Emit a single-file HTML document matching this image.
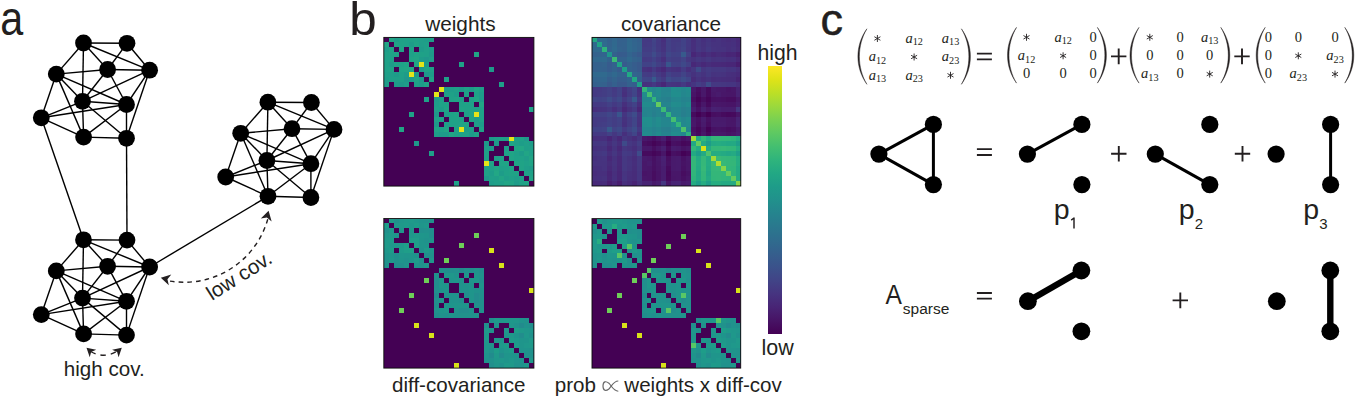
<!DOCTYPE html>
<html><head><meta charset="utf-8"><style>
html,body{margin:0;padding:0;background:#fff;width:1357px;height:397px;overflow:hidden}
svg text{fill:#231f20}
</style></head><body>
<svg width="1357" height="397" viewBox="0 0 1357 397" style="position:absolute;left:0;top:0;font-family:'Liberation Sans',sans-serif">
<text transform="translate(0.3,35) scale(0.87,1)" style="font-size:47.5px">a</text>
<g stroke="#000" stroke-width="1.4"><line x1="83.5" y1="43.0" x2="127.0" y2="43.3"/><line x1="83.5" y1="43.0" x2="56.3" y2="74.1"/><line x1="83.5" y1="43.0" x2="107.6" y2="69.5"/><line x1="83.5" y1="43.0" x2="149.6" y2="70.2"/><line x1="83.5" y1="43.0" x2="82.5" y2="101.3"/><line x1="127.0" y1="43.3" x2="107.6" y2="69.5"/><line x1="127.0" y1="43.3" x2="149.6" y2="70.2"/><line x1="56.3" y1="74.1" x2="107.6" y2="69.5"/><line x1="56.3" y1="74.1" x2="82.5" y2="101.3"/><line x1="56.3" y1="74.1" x2="126.5" y2="104.5"/><line x1="56.3" y1="74.1" x2="41.3" y2="117.8"/><line x1="56.3" y1="74.1" x2="83.6" y2="137.1"/><line x1="107.6" y1="69.5" x2="149.6" y2="70.2"/><line x1="107.6" y1="69.5" x2="82.5" y2="101.3"/><line x1="107.6" y1="69.5" x2="126.5" y2="104.5"/><line x1="149.6" y1="70.2" x2="82.5" y2="101.3"/><line x1="149.6" y1="70.2" x2="126.5" y2="104.5"/><line x1="149.6" y1="70.2" x2="126.5" y2="138.3"/><line x1="82.5" y1="101.3" x2="126.5" y2="104.5"/><line x1="82.5" y1="101.3" x2="41.3" y2="117.8"/><line x1="82.5" y1="101.3" x2="83.6" y2="137.1"/><line x1="82.5" y1="101.3" x2="126.5" y2="138.3"/><line x1="126.5" y1="104.5" x2="41.3" y2="117.8"/><line x1="126.5" y1="104.5" x2="83.6" y2="137.1"/><line x1="126.5" y1="104.5" x2="126.5" y2="138.3"/><line x1="41.3" y1="117.8" x2="83.6" y2="137.1"/><line x1="83.6" y1="137.1" x2="126.5" y2="138.3"/><line x1="83.5" y1="239.8" x2="127.0" y2="240.1"/><line x1="83.5" y1="239.8" x2="56.3" y2="270.9"/><line x1="83.5" y1="239.8" x2="107.6" y2="266.3"/><line x1="83.5" y1="239.8" x2="149.6" y2="267.0"/><line x1="83.5" y1="239.8" x2="82.5" y2="298.1"/><line x1="127.0" y1="240.1" x2="107.6" y2="266.3"/><line x1="127.0" y1="240.1" x2="149.6" y2="267.0"/><line x1="56.3" y1="270.9" x2="107.6" y2="266.3"/><line x1="56.3" y1="270.9" x2="82.5" y2="298.1"/><line x1="56.3" y1="270.9" x2="126.5" y2="301.3"/><line x1="56.3" y1="270.9" x2="41.3" y2="314.6"/><line x1="56.3" y1="270.9" x2="83.6" y2="333.9"/><line x1="107.6" y1="266.3" x2="149.6" y2="267.0"/><line x1="107.6" y1="266.3" x2="82.5" y2="298.1"/><line x1="107.6" y1="266.3" x2="126.5" y2="301.3"/><line x1="149.6" y1="267.0" x2="82.5" y2="298.1"/><line x1="149.6" y1="267.0" x2="126.5" y2="301.3"/><line x1="149.6" y1="267.0" x2="126.5" y2="335.1"/><line x1="82.5" y1="298.1" x2="126.5" y2="301.3"/><line x1="82.5" y1="298.1" x2="41.3" y2="314.6"/><line x1="82.5" y1="298.1" x2="83.6" y2="333.9"/><line x1="82.5" y1="298.1" x2="126.5" y2="335.1"/><line x1="126.5" y1="301.3" x2="41.3" y2="314.6"/><line x1="126.5" y1="301.3" x2="83.6" y2="333.9"/><line x1="126.5" y1="301.3" x2="126.5" y2="335.1"/><line x1="41.3" y1="314.6" x2="83.6" y2="333.9"/><line x1="83.6" y1="333.9" x2="126.5" y2="335.1"/><line x1="267.9" y1="102.2" x2="311.4" y2="102.5"/><line x1="267.9" y1="102.2" x2="240.7" y2="133.3"/><line x1="267.9" y1="102.2" x2="292.0" y2="128.7"/><line x1="267.9" y1="102.2" x2="334.0" y2="129.4"/><line x1="267.9" y1="102.2" x2="266.9" y2="160.5"/><line x1="311.4" y1="102.5" x2="292.0" y2="128.7"/><line x1="311.4" y1="102.5" x2="334.0" y2="129.4"/><line x1="240.7" y1="133.3" x2="292.0" y2="128.7"/><line x1="240.7" y1="133.3" x2="266.9" y2="160.5"/><line x1="240.7" y1="133.3" x2="310.9" y2="163.7"/><line x1="240.7" y1="133.3" x2="225.7" y2="177.0"/><line x1="240.7" y1="133.3" x2="268.0" y2="196.3"/><line x1="292.0" y1="128.7" x2="334.0" y2="129.4"/><line x1="292.0" y1="128.7" x2="266.9" y2="160.5"/><line x1="292.0" y1="128.7" x2="310.9" y2="163.7"/><line x1="334.0" y1="129.4" x2="266.9" y2="160.5"/><line x1="334.0" y1="129.4" x2="310.9" y2="163.7"/><line x1="334.0" y1="129.4" x2="310.9" y2="197.5"/><line x1="266.9" y1="160.5" x2="310.9" y2="163.7"/><line x1="266.9" y1="160.5" x2="225.7" y2="177.0"/><line x1="266.9" y1="160.5" x2="268.0" y2="196.3"/><line x1="266.9" y1="160.5" x2="310.9" y2="197.5"/><line x1="310.9" y1="163.7" x2="225.7" y2="177.0"/><line x1="310.9" y1="163.7" x2="268.0" y2="196.3"/><line x1="310.9" y1="163.7" x2="310.9" y2="197.5"/><line x1="225.7" y1="177.0" x2="268.0" y2="196.3"/><line x1="268.0" y1="196.3" x2="310.9" y2="197.5"/><line x1="41.3" y1="117.8" x2="83.5" y2="239.8"/><line x1="126.5" y1="138.3" x2="127.0" y2="240.1"/><line x1="149.6" y1="267.0" x2="268.0" y2="196.3"/></g>
<g fill="#000"><circle cx="83.5" cy="43.0" r="8.4"/><circle cx="127.0" cy="43.3" r="8.4"/><circle cx="56.3" cy="74.1" r="8.4"/><circle cx="107.6" cy="69.5" r="8.4"/><circle cx="149.6" cy="70.2" r="8.4"/><circle cx="82.5" cy="101.3" r="8.4"/><circle cx="126.5" cy="104.5" r="8.4"/><circle cx="41.3" cy="117.8" r="8.4"/><circle cx="83.6" cy="137.1" r="8.4"/><circle cx="126.5" cy="138.3" r="8.4"/><circle cx="83.5" cy="239.8" r="8.4"/><circle cx="127.0" cy="240.1" r="8.4"/><circle cx="56.3" cy="270.9" r="8.4"/><circle cx="107.6" cy="266.3" r="8.4"/><circle cx="149.6" cy="267.0" r="8.4"/><circle cx="82.5" cy="298.1" r="8.4"/><circle cx="126.5" cy="301.3" r="8.4"/><circle cx="41.3" cy="314.6" r="8.4"/><circle cx="83.6" cy="333.9" r="8.4"/><circle cx="126.5" cy="335.1" r="8.4"/><circle cx="267.9" cy="102.2" r="8.4"/><circle cx="311.4" cy="102.5" r="8.4"/><circle cx="240.7" cy="133.3" r="8.4"/><circle cx="292.0" cy="128.7" r="8.4"/><circle cx="334.0" cy="129.4" r="8.4"/><circle cx="266.9" cy="160.5" r="8.4"/><circle cx="310.9" cy="163.7" r="8.4"/><circle cx="225.7" cy="177.0" r="8.4"/><circle cx="268.0" cy="196.3" r="8.4"/><circle cx="310.9" cy="197.5" r="8.4"/></g>
<path d="M267.75 219.2 A86.7 86.7 0 0 1 168.5 280.8" fill="none" stroke="#231f20" stroke-width="1.4" stroke-dasharray="4.6 4.1"/>
<path d="M268.60 210.80L271.65 221.40L266.90 217.38L260.81 218.60Z" fill="#231f20"/>
<path d="M160.80 277.80L171.30 274.44L167.43 279.30L168.83 285.36Z" fill="#231f20"/>
<path d="M90.5 351.5 Q104 359 116.5 351.5" fill="none" stroke="#231f20" stroke-width="1.4" stroke-dasharray="5.5 5"/>
<path d="M86.50 347.80L96.19 349.80L91.15 351.90L89.72 357.16Z" fill="#231f20"/>
<path d="M121.80 347.80L118.58 357.16L117.15 351.90L112.11 349.80Z" fill="#231f20"/>
<text x="63.8" y="375.6" style="font-size:20.6px">high cov.</text>
<text transform="translate(212,301) rotate(-32.3)" style="font-size:20.6px">low cov.</text>

<text transform="translate(349.3,34.6) scale(1.05,1)" style="font-size:47px">b</text>
<text x="460.4" y="31" text-anchor="middle" style="font-size:20.8px">weights</text>
<text x="671" y="31.2" text-anchor="middle" style="font-size:20.7px">covariance</text>
<text x="392" y="391.6" style="font-size:20.6px">diff-covariance</text>
<text x="554.8" y="391.6" style="font-size:20.6px">prob</text>
<path d="M618.30 381.00 C613.70 381.00 611.20 386.60 608.90 389.00 C606.00 391.20 603.00 391.20 603.00 386.10 C603.00 381.00 606.00 381.00 608.90 383.20 C611.20 385.60 613.70 391.20 618.30 391.20" fill="none" stroke="#666" stroke-width="1.15"/>
<text x="624.3" y="391.6" style="font-size:20.6px">weights x diff-cov</text>
<svg x="383.80" y="37.40" width="150.10" height="148.70" viewBox="0 0 30 30" preserveAspectRatio="none" shape-rendering="crispEdges">
<rect width="30" height="30" fill="#440154"/>
<rect x="1" y="0" width="1" height="1" fill="#21a585"/>
<rect x="2" y="0" width="1" height="1" fill="#1e9d89"/>
<rect x="3" y="0" width="1" height="1" fill="#1fa187"/>
<rect x="4" y="0" width="1" height="1" fill="#1fa188"/>
<rect x="5" y="0" width="1" height="1" fill="#1fa187"/>
<rect x="6" y="0" width="1" height="1" fill="#1fa188"/>
<rect x="7" y="0" width="1" height="1" fill="#1f9f88"/>
<rect x="8" y="0" width="1" height="1" fill="#1e9d89"/>
<rect x="9" y="0" width="1" height="1" fill="#1e9d89"/>
<rect x="0" y="1" width="1" height="1" fill="#21a585"/>
<rect x="2" y="1" width="1" height="1" fill="#20a486"/>
<rect x="3" y="1" width="1" height="1" fill="#1fa287"/>
<rect x="4" y="1" width="1" height="1" fill="#1fa188"/>
<rect x="5" y="1" width="1" height="1" fill="#1e9c89"/>
<rect x="6" y="1" width="1" height="1" fill="#20a386"/>
<rect x="7" y="1" width="1" height="1" fill="#1f9e89"/>
<rect x="8" y="1" width="1" height="1" fill="#1fa088"/>
<rect x="0" y="2" width="1" height="1" fill="#1e9d89"/>
<rect x="1" y="2" width="1" height="1" fill="#20a486"/>
<rect x="3" y="2" width="1" height="1" fill="#20a386"/>
<rect x="5" y="2" width="1" height="1" fill="#1fa287"/>
<rect x="7" y="2" width="1" height="1" fill="#1e9c89"/>
<rect x="8" y="2" width="1" height="1" fill="#1fa088"/>
<rect x="9" y="2" width="1" height="1" fill="#1e9c89"/>
<rect x="0" y="3" width="1" height="1" fill="#1fa187"/>
<rect x="1" y="3" width="1" height="1" fill="#1fa287"/>
<rect x="2" y="3" width="1" height="1" fill="#20a386"/>
<rect x="5" y="3" width="1" height="1" fill="#1fa188"/>
<rect x="6" y="3" width="1" height="1" fill="#20a486"/>
<rect x="7" y="3" width="1" height="1" fill="#1fa187"/>
<rect x="8" y="3" width="1" height="1" fill="#1fa088"/>
<rect x="9" y="3" width="1" height="1" fill="#1f998a"/>
<rect x="18" y="3" width="1" height="1" fill="#21a585"/>
<rect x="0" y="4" width="1" height="1" fill="#1fa188"/>
<rect x="1" y="4" width="1" height="1" fill="#1fa188"/>
<rect x="5" y="4" width="1" height="1" fill="#20a486"/>
<rect x="6" y="4" width="1" height="1" fill="#21a585"/>
<rect x="7" y="4" width="1" height="1" fill="#1e9c89"/>
<rect x="8" y="4" width="1" height="1" fill="#1f988b"/>
<rect x="9" y="4" width="1" height="1" fill="#1f9e89"/>
<rect x="0" y="5" width="1" height="1" fill="#1fa187"/>
<rect x="1" y="5" width="1" height="1" fill="#1e9c89"/>
<rect x="2" y="5" width="1" height="1" fill="#1fa287"/>
<rect x="3" y="5" width="1" height="1" fill="#1fa188"/>
<rect x="4" y="5" width="1" height="1" fill="#20a486"/>
<rect x="6" y="5" width="1" height="1" fill="#21a685"/>
<rect x="7" y="5" width="1" height="1" fill="#e5e419"/>
<rect x="8" y="5" width="1" height="1" fill="#1e9b8a"/>
<rect x="15" y="5" width="1" height="1" fill="#1fa287"/>
<rect x="0" y="6" width="1" height="1" fill="#1fa188"/>
<rect x="1" y="6" width="1" height="1" fill="#20a386"/>
<rect x="3" y="6" width="1" height="1" fill="#20a486"/>
<rect x="4" y="6" width="1" height="1" fill="#21a585"/>
<rect x="5" y="6" width="1" height="1" fill="#21a685"/>
<rect x="7" y="6" width="1" height="1" fill="#1f9a8a"/>
<rect x="8" y="6" width="1" height="1" fill="#20a386"/>
<rect x="9" y="6" width="1" height="1" fill="#1fa088"/>
<rect x="21" y="6" width="1" height="1" fill="#1f998a"/>
<rect x="0" y="7" width="1" height="1" fill="#1f9f88"/>
<rect x="1" y="7" width="1" height="1" fill="#1f9e89"/>
<rect x="2" y="7" width="1" height="1" fill="#1e9c89"/>
<rect x="3" y="7" width="1" height="1" fill="#1fa187"/>
<rect x="4" y="7" width="1" height="1" fill="#1e9c89"/>
<rect x="5" y="7" width="1" height="1" fill="#e5e419"/>
<rect x="6" y="7" width="1" height="1" fill="#1f9a8a"/>
<rect x="8" y="7" width="1" height="1" fill="#1f988b"/>
<rect x="9" y="7" width="1" height="1" fill="#1e9c89"/>
<rect x="0" y="8" width="1" height="1" fill="#1e9d89"/>
<rect x="1" y="8" width="1" height="1" fill="#1fa088"/>
<rect x="2" y="8" width="1" height="1" fill="#1fa088"/>
<rect x="3" y="8" width="1" height="1" fill="#1fa088"/>
<rect x="4" y="8" width="1" height="1" fill="#1f988b"/>
<rect x="5" y="8" width="1" height="1" fill="#1e9b8a"/>
<rect x="6" y="8" width="1" height="1" fill="#20a386"/>
<rect x="7" y="8" width="1" height="1" fill="#1f988b"/>
<rect x="9" y="8" width="1" height="1" fill="#20a486"/>
<rect x="12" y="8" width="1" height="1" fill="#1fa188"/>
<rect x="0" y="9" width="1" height="1" fill="#1e9d89"/>
<rect x="2" y="9" width="1" height="1" fill="#1e9c89"/>
<rect x="3" y="9" width="1" height="1" fill="#1f998a"/>
<rect x="4" y="9" width="1" height="1" fill="#1f9e89"/>
<rect x="6" y="9" width="1" height="1" fill="#1fa088"/>
<rect x="7" y="9" width="1" height="1" fill="#1e9c89"/>
<rect x="8" y="9" width="1" height="1" fill="#20a486"/>
<rect x="23" y="9" width="1" height="1" fill="#1f9f88"/>
<rect x="11" y="10" width="1" height="1" fill="#e5e419"/>
<rect x="12" y="10" width="1" height="1" fill="#1e9b8a"/>
<rect x="13" y="10" width="1" height="1" fill="#1e9d89"/>
<rect x="14" y="10" width="1" height="1" fill="#1f9f88"/>
<rect x="15" y="10" width="1" height="1" fill="#1f998a"/>
<rect x="16" y="10" width="1" height="1" fill="#1fa188"/>
<rect x="17" y="10" width="1" height="1" fill="#1f9a8a"/>
<rect x="18" y="10" width="1" height="1" fill="#20a486"/>
<rect x="19" y="10" width="1" height="1" fill="#1f9e89"/>
<rect x="10" y="11" width="1" height="1" fill="#e5e419"/>
<rect x="12" y="11" width="1" height="1" fill="#1fa088"/>
<rect x="13" y="11" width="1" height="1" fill="#1fa187"/>
<rect x="14" y="11" width="1" height="1" fill="#1e9d89"/>
<rect x="16" y="11" width="1" height="1" fill="#1fa287"/>
<rect x="18" y="11" width="1" height="1" fill="#1fa188"/>
<rect x="19" y="11" width="1" height="1" fill="#1e9b8a"/>
<rect x="8" y="12" width="1" height="1" fill="#1fa188"/>
<rect x="10" y="12" width="1" height="1" fill="#1e9b8a"/>
<rect x="11" y="12" width="1" height="1" fill="#1fa088"/>
<rect x="13" y="12" width="1" height="1" fill="#1fa287"/>
<rect x="14" y="12" width="1" height="1" fill="#20a386"/>
<rect x="15" y="12" width="1" height="1" fill="#1f9f88"/>
<rect x="17" y="12" width="1" height="1" fill="#1fa188"/>
<rect x="18" y="12" width="1" height="1" fill="#21a685"/>
<rect x="19" y="12" width="1" height="1" fill="#1e9b8a"/>
<rect x="10" y="13" width="1" height="1" fill="#1e9d89"/>
<rect x="11" y="13" width="1" height="1" fill="#1fa187"/>
<rect x="12" y="13" width="1" height="1" fill="#1fa287"/>
<rect x="15" y="13" width="1" height="1" fill="#1fa187"/>
<rect x="16" y="13" width="1" height="1" fill="#1fa287"/>
<rect x="17" y="13" width="1" height="1" fill="#1fa188"/>
<rect x="19" y="13" width="1" height="1" fill="#21a585"/>
<rect x="10" y="14" width="1" height="1" fill="#1f9f88"/>
<rect x="11" y="14" width="1" height="1" fill="#1e9d89"/>
<rect x="12" y="14" width="1" height="1" fill="#20a386"/>
<rect x="15" y="14" width="1" height="1" fill="#20a386"/>
<rect x="16" y="14" width="1" height="1" fill="#1fa287"/>
<rect x="17" y="14" width="1" height="1" fill="#1fa287"/>
<rect x="18" y="14" width="1" height="1" fill="#1fa187"/>
<rect x="19" y="14" width="1" height="1" fill="#1fa188"/>
<rect x="29" y="14" width="1" height="1" fill="#1fa187"/>
<rect x="5" y="15" width="1" height="1" fill="#1fa287"/>
<rect x="10" y="15" width="1" height="1" fill="#1f998a"/>
<rect x="12" y="15" width="1" height="1" fill="#1f9f88"/>
<rect x="13" y="15" width="1" height="1" fill="#1fa187"/>
<rect x="14" y="15" width="1" height="1" fill="#20a386"/>
<rect x="16" y="15" width="1" height="1" fill="#1fa088"/>
<rect x="17" y="15" width="1" height="1" fill="#20a386"/>
<rect x="18" y="15" width="1" height="1" fill="#e5e419"/>
<rect x="19" y="15" width="1" height="1" fill="#1fa188"/>
<rect x="10" y="16" width="1" height="1" fill="#1fa188"/>
<rect x="11" y="16" width="1" height="1" fill="#1fa287"/>
<rect x="13" y="16" width="1" height="1" fill="#1fa287"/>
<rect x="14" y="16" width="1" height="1" fill="#1fa287"/>
<rect x="15" y="16" width="1" height="1" fill="#1fa088"/>
<rect x="17" y="16" width="1" height="1" fill="#20a386"/>
<rect x="18" y="16" width="1" height="1" fill="#1e9c89"/>
<rect x="19" y="16" width="1" height="1" fill="#1fa188"/>
<rect x="10" y="17" width="1" height="1" fill="#1f9a8a"/>
<rect x="12" y="17" width="1" height="1" fill="#1fa188"/>
<rect x="13" y="17" width="1" height="1" fill="#1fa188"/>
<rect x="14" y="17" width="1" height="1" fill="#1fa287"/>
<rect x="15" y="17" width="1" height="1" fill="#20a386"/>
<rect x="16" y="17" width="1" height="1" fill="#20a386"/>
<rect x="18" y="17" width="1" height="1" fill="#1f9e89"/>
<rect x="19" y="17" width="1" height="1" fill="#1e9b8a"/>
<rect x="3" y="18" width="1" height="1" fill="#21a585"/>
<rect x="10" y="18" width="1" height="1" fill="#20a486"/>
<rect x="11" y="18" width="1" height="1" fill="#1fa188"/>
<rect x="12" y="18" width="1" height="1" fill="#21a685"/>
<rect x="14" y="18" width="1" height="1" fill="#1fa187"/>
<rect x="15" y="18" width="1" height="1" fill="#e5e419"/>
<rect x="16" y="18" width="1" height="1" fill="#1e9c89"/>
<rect x="17" y="18" width="1" height="1" fill="#1f9e89"/>
<rect x="19" y="18" width="1" height="1" fill="#1fa287"/>
<rect x="10" y="19" width="1" height="1" fill="#1f9e89"/>
<rect x="11" y="19" width="1" height="1" fill="#1e9b8a"/>
<rect x="12" y="19" width="1" height="1" fill="#1e9b8a"/>
<rect x="13" y="19" width="1" height="1" fill="#21a585"/>
<rect x="14" y="19" width="1" height="1" fill="#1fa188"/>
<rect x="15" y="19" width="1" height="1" fill="#1fa188"/>
<rect x="16" y="19" width="1" height="1" fill="#1fa188"/>
<rect x="17" y="19" width="1" height="1" fill="#1e9b8a"/>
<rect x="18" y="19" width="1" height="1" fill="#1fa287"/>
<rect x="21" y="20" width="1" height="1" fill="#1e9b8a"/>
<rect x="22" y="20" width="1" height="1" fill="#1f9e89"/>
<rect x="23" y="20" width="1" height="1" fill="#1fa187"/>
<rect x="24" y="20" width="1" height="1" fill="#1f9f88"/>
<rect x="25" y="20" width="1" height="1" fill="#e5e419"/>
<rect x="26" y="20" width="1" height="1" fill="#1fa088"/>
<rect x="27" y="20" width="1" height="1" fill="#1fa187"/>
<rect x="28" y="20" width="1" height="1" fill="#1f988b"/>
<rect x="6" y="21" width="1" height="1" fill="#1f998a"/>
<rect x="20" y="21" width="1" height="1" fill="#1e9b8a"/>
<rect x="22" y="21" width="1" height="1" fill="#1e9b8a"/>
<rect x="25" y="21" width="1" height="1" fill="#20a486"/>
<rect x="26" y="21" width="1" height="1" fill="#1fa088"/>
<rect x="27" y="21" width="1" height="1" fill="#1e9d89"/>
<rect x="28" y="21" width="1" height="1" fill="#1fa088"/>
<rect x="29" y="21" width="1" height="1" fill="#1e9d89"/>
<rect x="20" y="22" width="1" height="1" fill="#1f9e89"/>
<rect x="21" y="22" width="1" height="1" fill="#1e9b8a"/>
<rect x="24" y="22" width="1" height="1" fill="#1f9e89"/>
<rect x="26" y="22" width="1" height="1" fill="#21a585"/>
<rect x="27" y="22" width="1" height="1" fill="#22a785"/>
<rect x="28" y="22" width="1" height="1" fill="#1f9f88"/>
<rect x="29" y="22" width="1" height="1" fill="#1fa088"/>
<rect x="9" y="23" width="1" height="1" fill="#1f9f88"/>
<rect x="20" y="23" width="1" height="1" fill="#1fa187"/>
<rect x="24" y="23" width="1" height="1" fill="#1fa188"/>
<rect x="25" y="23" width="1" height="1" fill="#20a486"/>
<rect x="26" y="23" width="1" height="1" fill="#1fa088"/>
<rect x="27" y="23" width="1" height="1" fill="#1e9c89"/>
<rect x="28" y="23" width="1" height="1" fill="#21a585"/>
<rect x="29" y="23" width="1" height="1" fill="#1fa088"/>
<rect x="20" y="24" width="1" height="1" fill="#1f9f88"/>
<rect x="22" y="24" width="1" height="1" fill="#1f9e89"/>
<rect x="23" y="24" width="1" height="1" fill="#1fa188"/>
<rect x="25" y="24" width="1" height="1" fill="#20a486"/>
<rect x="26" y="24" width="1" height="1" fill="#1fa188"/>
<rect x="27" y="24" width="1" height="1" fill="#1fa287"/>
<rect x="28" y="24" width="1" height="1" fill="#1f9e89"/>
<rect x="29" y="24" width="1" height="1" fill="#21a585"/>
<rect x="20" y="25" width="1" height="1" fill="#e5e419"/>
<rect x="21" y="25" width="1" height="1" fill="#20a486"/>
<rect x="23" y="25" width="1" height="1" fill="#20a486"/>
<rect x="24" y="25" width="1" height="1" fill="#20a486"/>
<rect x="26" y="25" width="1" height="1" fill="#20a486"/>
<rect x="27" y="25" width="1" height="1" fill="#20a386"/>
<rect x="28" y="25" width="1" height="1" fill="#1fa188"/>
<rect x="29" y="25" width="1" height="1" fill="#20a486"/>
<rect x="20" y="26" width="1" height="1" fill="#1fa088"/>
<rect x="21" y="26" width="1" height="1" fill="#1fa088"/>
<rect x="22" y="26" width="1" height="1" fill="#21a585"/>
<rect x="23" y="26" width="1" height="1" fill="#1fa088"/>
<rect x="24" y="26" width="1" height="1" fill="#1fa188"/>
<rect x="25" y="26" width="1" height="1" fill="#20a486"/>
<rect x="27" y="26" width="1" height="1" fill="#20a386"/>
<rect x="28" y="26" width="1" height="1" fill="#1f9e89"/>
<rect x="29" y="26" width="1" height="1" fill="#1e9c89"/>
<rect x="20" y="27" width="1" height="1" fill="#1fa187"/>
<rect x="21" y="27" width="1" height="1" fill="#1e9d89"/>
<rect x="22" y="27" width="1" height="1" fill="#22a785"/>
<rect x="23" y="27" width="1" height="1" fill="#1e9c89"/>
<rect x="24" y="27" width="1" height="1" fill="#1fa287"/>
<rect x="25" y="27" width="1" height="1" fill="#20a386"/>
<rect x="26" y="27" width="1" height="1" fill="#20a386"/>
<rect x="28" y="27" width="1" height="1" fill="#1fa188"/>
<rect x="29" y="27" width="1" height="1" fill="#1fa187"/>
<rect x="20" y="28" width="1" height="1" fill="#1f988b"/>
<rect x="21" y="28" width="1" height="1" fill="#1fa088"/>
<rect x="22" y="28" width="1" height="1" fill="#1f9f88"/>
<rect x="23" y="28" width="1" height="1" fill="#21a585"/>
<rect x="24" y="28" width="1" height="1" fill="#1f9e89"/>
<rect x="25" y="28" width="1" height="1" fill="#1fa188"/>
<rect x="26" y="28" width="1" height="1" fill="#1f9e89"/>
<rect x="27" y="28" width="1" height="1" fill="#1fa188"/>
<rect x="29" y="28" width="1" height="1" fill="#20a486"/>
<rect x="14" y="29" width="1" height="1" fill="#1fa187"/>
<rect x="21" y="29" width="1" height="1" fill="#1e9d89"/>
<rect x="22" y="29" width="1" height="1" fill="#1fa088"/>
<rect x="23" y="29" width="1" height="1" fill="#1fa088"/>
<rect x="24" y="29" width="1" height="1" fill="#21a585"/>
<rect x="25" y="29" width="1" height="1" fill="#20a486"/>
<rect x="26" y="29" width="1" height="1" fill="#1e9c89"/>
<rect x="27" y="29" width="1" height="1" fill="#1fa187"/>
<rect x="28" y="29" width="1" height="1" fill="#20a486"/>
</svg>
<rect x="383.80" y="37.40" width="150.10" height="148.70" fill="none" stroke="#0a0a0a" stroke-width="0.9"/>
<svg x="592.00" y="37.40" width="148.80" height="148.60" viewBox="0 0 30 30" preserveAspectRatio="none" shape-rendering="crispEdges">
<rect width="30" height="30" fill="#440154"/>
<rect x="0" y="0" width="1" height="1" fill="#22a884"/>
<rect x="1" y="0" width="1" height="1" fill="#306a8e"/>
<rect x="2" y="0" width="1" height="1" fill="#30698e"/>
<rect x="3" y="0" width="1" height="1" fill="#33628d"/>
<rect x="4" y="0" width="1" height="1" fill="#31688e"/>
<rect x="5" y="0" width="1" height="1" fill="#34618d"/>
<rect x="6" y="0" width="1" height="1" fill="#34618d"/>
<rect x="7" y="0" width="1" height="1" fill="#30698e"/>
<rect x="8" y="0" width="1" height="1" fill="#32648e"/>
<rect x="9" y="0" width="1" height="1" fill="#34608d"/>
<rect x="10" y="0" width="1" height="1" fill="#443a83"/>
<rect x="11" y="0" width="1" height="1" fill="#443983"/>
<rect x="12" y="0" width="1" height="1" fill="#414487"/>
<rect x="13" y="0" width="1" height="1" fill="#443983"/>
<rect x="14" y="0" width="1" height="1" fill="#472f7d"/>
<rect x="15" y="0" width="1" height="1" fill="#424086"/>
<rect x="16" y="0" width="1" height="1" fill="#443a83"/>
<rect x="17" y="0" width="1" height="1" fill="#443a83"/>
<rect x="18" y="0" width="1" height="1" fill="#414287"/>
<rect x="19" y="0" width="1" height="1" fill="#443983"/>
<rect x="20" y="0" width="1" height="1" fill="#472e7c"/>
<rect x="21" y="0" width="1" height="1" fill="#453781"/>
<rect x="22" y="0" width="1" height="1" fill="#46307e"/>
<rect x="23" y="0" width="1" height="1" fill="#453581"/>
<rect x="24" y="0" width="1" height="1" fill="#46307e"/>
<rect x="25" y="0" width="1" height="1" fill="#46337f"/>
<rect x="26" y="0" width="1" height="1" fill="#472f7d"/>
<rect x="27" y="0" width="1" height="1" fill="#472d7b"/>
<rect x="28" y="0" width="1" height="1" fill="#472f7d"/>
<rect x="29" y="0" width="1" height="1" fill="#482979"/>
<rect x="0" y="1" width="1" height="1" fill="#306a8e"/>
<rect x="1" y="1" width="1" height="1" fill="#20a386"/>
<rect x="2" y="1" width="1" height="1" fill="#2f6b8e"/>
<rect x="3" y="1" width="1" height="1" fill="#33638d"/>
<rect x="4" y="1" width="1" height="1" fill="#30698e"/>
<rect x="5" y="1" width="1" height="1" fill="#34618d"/>
<rect x="6" y="1" width="1" height="1" fill="#33628d"/>
<rect x="7" y="1" width="1" height="1" fill="#306a8e"/>
<rect x="8" y="1" width="1" height="1" fill="#32658e"/>
<rect x="9" y="1" width="1" height="1" fill="#33628d"/>
<rect x="10" y="1" width="1" height="1" fill="#443a83"/>
<rect x="11" y="1" width="1" height="1" fill="#443b84"/>
<rect x="12" y="1" width="1" height="1" fill="#414287"/>
<rect x="13" y="1" width="1" height="1" fill="#443983"/>
<rect x="14" y="1" width="1" height="1" fill="#46327e"/>
<rect x="15" y="1" width="1" height="1" fill="#424186"/>
<rect x="16" y="1" width="1" height="1" fill="#443b84"/>
<rect x="17" y="1" width="1" height="1" fill="#433d84"/>
<rect x="18" y="1" width="1" height="1" fill="#414287"/>
<rect x="19" y="1" width="1" height="1" fill="#443983"/>
<rect x="20" y="1" width="1" height="1" fill="#472f7d"/>
<rect x="21" y="1" width="1" height="1" fill="#453781"/>
<rect x="22" y="1" width="1" height="1" fill="#46327e"/>
<rect x="23" y="1" width="1" height="1" fill="#453781"/>
<rect x="24" y="1" width="1" height="1" fill="#46337f"/>
<rect x="25" y="1" width="1" height="1" fill="#46337f"/>
<rect x="26" y="1" width="1" height="1" fill="#46307e"/>
<rect x="27" y="1" width="1" height="1" fill="#472f7d"/>
<rect x="28" y="1" width="1" height="1" fill="#46307e"/>
<rect x="29" y="1" width="1" height="1" fill="#472a7a"/>
<rect x="0" y="2" width="1" height="1" fill="#30698e"/>
<rect x="1" y="2" width="1" height="1" fill="#2f6b8e"/>
<rect x="2" y="2" width="1" height="1" fill="#2fb47c"/>
<rect x="3" y="2" width="1" height="1" fill="#32648e"/>
<rect x="4" y="2" width="1" height="1" fill="#306a8e"/>
<rect x="5" y="2" width="1" height="1" fill="#33638d"/>
<rect x="6" y="2" width="1" height="1" fill="#34618d"/>
<rect x="7" y="2" width="1" height="1" fill="#306a8e"/>
<rect x="8" y="2" width="1" height="1" fill="#31668e"/>
<rect x="9" y="2" width="1" height="1" fill="#34618d"/>
<rect x="10" y="2" width="1" height="1" fill="#433d84"/>
<rect x="11" y="2" width="1" height="1" fill="#433d84"/>
<rect x="12" y="2" width="1" height="1" fill="#414487"/>
<rect x="13" y="2" width="1" height="1" fill="#443a83"/>
<rect x="14" y="2" width="1" height="1" fill="#46337f"/>
<rect x="15" y="2" width="1" height="1" fill="#424186"/>
<rect x="16" y="2" width="1" height="1" fill="#443b84"/>
<rect x="17" y="2" width="1" height="1" fill="#433e85"/>
<rect x="18" y="2" width="1" height="1" fill="#414487"/>
<rect x="19" y="2" width="1" height="1" fill="#453882"/>
<rect x="20" y="2" width="1" height="1" fill="#472f7d"/>
<rect x="21" y="2" width="1" height="1" fill="#453882"/>
<rect x="22" y="2" width="1" height="1" fill="#46337f"/>
<rect x="23" y="2" width="1" height="1" fill="#443983"/>
<rect x="24" y="2" width="1" height="1" fill="#463480"/>
<rect x="25" y="2" width="1" height="1" fill="#46337f"/>
<rect x="26" y="2" width="1" height="1" fill="#46337f"/>
<rect x="27" y="2" width="1" height="1" fill="#472f7d"/>
<rect x="28" y="2" width="1" height="1" fill="#46327e"/>
<rect x="29" y="2" width="1" height="1" fill="#472c7a"/>
<rect x="0" y="3" width="1" height="1" fill="#33628d"/>
<rect x="1" y="3" width="1" height="1" fill="#33638d"/>
<rect x="2" y="3" width="1" height="1" fill="#32648e"/>
<rect x="3" y="3" width="1" height="1" fill="#1f958b"/>
<rect x="4" y="3" width="1" height="1" fill="#33628d"/>
<rect x="5" y="3" width="1" height="1" fill="#375b8d"/>
<rect x="6" y="3" width="1" height="1" fill="#365c8d"/>
<rect x="7" y="3" width="1" height="1" fill="#32648e"/>
<rect x="8" y="3" width="1" height="1" fill="#355e8d"/>
<rect x="9" y="3" width="1" height="1" fill="#38598c"/>
<rect x="10" y="3" width="1" height="1" fill="#424186"/>
<rect x="11" y="3" width="1" height="1" fill="#424186"/>
<rect x="12" y="3" width="1" height="1" fill="#3e4c8a"/>
<rect x="13" y="3" width="1" height="1" fill="#424086"/>
<rect x="14" y="3" width="1" height="1" fill="#453882"/>
<rect x="15" y="3" width="1" height="1" fill="#3f4788"/>
<rect x="16" y="3" width="1" height="1" fill="#424186"/>
<rect x="17" y="3" width="1" height="1" fill="#414287"/>
<rect x="18" y="3" width="1" height="1" fill="#375a8c"/>
<rect x="19" y="3" width="1" height="1" fill="#424186"/>
<rect x="20" y="3" width="1" height="1" fill="#482677"/>
<rect x="21" y="3" width="1" height="1" fill="#472e7c"/>
<rect x="22" y="3" width="1" height="1" fill="#482878"/>
<rect x="23" y="3" width="1" height="1" fill="#472e7c"/>
<rect x="24" y="3" width="1" height="1" fill="#482878"/>
<rect x="25" y="3" width="1" height="1" fill="#472c7a"/>
<rect x="26" y="3" width="1" height="1" fill="#482979"/>
<rect x="27" y="3" width="1" height="1" fill="#482576"/>
<rect x="28" y="3" width="1" height="1" fill="#482677"/>
<rect x="29" y="3" width="1" height="1" fill="#481f70"/>
<rect x="0" y="4" width="1" height="1" fill="#31688e"/>
<rect x="1" y="4" width="1" height="1" fill="#30698e"/>
<rect x="2" y="4" width="1" height="1" fill="#306a8e"/>
<rect x="3" y="4" width="1" height="1" fill="#33628d"/>
<rect x="4" y="4" width="1" height="1" fill="#3bbb75"/>
<rect x="5" y="4" width="1" height="1" fill="#33628d"/>
<rect x="6" y="4" width="1" height="1" fill="#33628d"/>
<rect x="7" y="4" width="1" height="1" fill="#30698e"/>
<rect x="8" y="4" width="1" height="1" fill="#33638d"/>
<rect x="9" y="4" width="1" height="1" fill="#34608d"/>
<rect x="10" y="4" width="1" height="1" fill="#443a83"/>
<rect x="11" y="4" width="1" height="1" fill="#443b84"/>
<rect x="12" y="4" width="1" height="1" fill="#414287"/>
<rect x="13" y="4" width="1" height="1" fill="#443983"/>
<rect x="14" y="4" width="1" height="1" fill="#472f7d"/>
<rect x="15" y="4" width="1" height="1" fill="#424086"/>
<rect x="16" y="4" width="1" height="1" fill="#433d84"/>
<rect x="17" y="4" width="1" height="1" fill="#433d84"/>
<rect x="18" y="4" width="1" height="1" fill="#414487"/>
<rect x="19" y="4" width="1" height="1" fill="#453781"/>
<rect x="20" y="4" width="1" height="1" fill="#46327e"/>
<rect x="21" y="4" width="1" height="1" fill="#453781"/>
<rect x="22" y="4" width="1" height="1" fill="#46337f"/>
<rect x="23" y="4" width="1" height="1" fill="#453781"/>
<rect x="24" y="4" width="1" height="1" fill="#46327e"/>
<rect x="25" y="4" width="1" height="1" fill="#46337f"/>
<rect x="26" y="4" width="1" height="1" fill="#46327e"/>
<rect x="27" y="4" width="1" height="1" fill="#472f7d"/>
<rect x="28" y="4" width="1" height="1" fill="#46307e"/>
<rect x="29" y="4" width="1" height="1" fill="#482878"/>
<rect x="0" y="5" width="1" height="1" fill="#34618d"/>
<rect x="1" y="5" width="1" height="1" fill="#34618d"/>
<rect x="2" y="5" width="1" height="1" fill="#33638d"/>
<rect x="3" y="5" width="1" height="1" fill="#375b8d"/>
<rect x="4" y="5" width="1" height="1" fill="#33628d"/>
<rect x="5" y="5" width="1" height="1" fill="#20a386"/>
<rect x="6" y="5" width="1" height="1" fill="#375b8d"/>
<rect x="7" y="5" width="1" height="1" fill="#33628d"/>
<rect x="8" y="5" width="1" height="1" fill="#365d8d"/>
<rect x="9" y="5" width="1" height="1" fill="#38598c"/>
<rect x="10" y="5" width="1" height="1" fill="#414287"/>
<rect x="11" y="5" width="1" height="1" fill="#414287"/>
<rect x="12" y="5" width="1" height="1" fill="#3e4989"/>
<rect x="13" y="5" width="1" height="1" fill="#423f85"/>
<rect x="14" y="5" width="1" height="1" fill="#453882"/>
<rect x="15" y="5" width="1" height="1" fill="#39558c"/>
<rect x="16" y="5" width="1" height="1" fill="#414287"/>
<rect x="17" y="5" width="1" height="1" fill="#424186"/>
<rect x="18" y="5" width="1" height="1" fill="#3e4989"/>
<rect x="19" y="5" width="1" height="1" fill="#424086"/>
<rect x="20" y="5" width="1" height="1" fill="#482878"/>
<rect x="21" y="5" width="1" height="1" fill="#472e7c"/>
<rect x="22" y="5" width="1" height="1" fill="#482878"/>
<rect x="23" y="5" width="1" height="1" fill="#472d7b"/>
<rect x="24" y="5" width="1" height="1" fill="#482979"/>
<rect x="25" y="5" width="1" height="1" fill="#482979"/>
<rect x="26" y="5" width="1" height="1" fill="#482878"/>
<rect x="27" y="5" width="1" height="1" fill="#482677"/>
<rect x="28" y="5" width="1" height="1" fill="#482677"/>
<rect x="29" y="5" width="1" height="1" fill="#481d6f"/>
<rect x="0" y="6" width="1" height="1" fill="#34618d"/>
<rect x="1" y="6" width="1" height="1" fill="#33628d"/>
<rect x="2" y="6" width="1" height="1" fill="#34618d"/>
<rect x="3" y="6" width="1" height="1" fill="#365c8d"/>
<rect x="4" y="6" width="1" height="1" fill="#33628d"/>
<rect x="5" y="6" width="1" height="1" fill="#375b8d"/>
<rect x="6" y="6" width="1" height="1" fill="#1f9f88"/>
<rect x="7" y="6" width="1" height="1" fill="#34618d"/>
<rect x="8" y="6" width="1" height="1" fill="#355e8d"/>
<rect x="9" y="6" width="1" height="1" fill="#38598c"/>
<rect x="10" y="6" width="1" height="1" fill="#46327e"/>
<rect x="11" y="6" width="1" height="1" fill="#472f7d"/>
<rect x="12" y="6" width="1" height="1" fill="#443a83"/>
<rect x="13" y="6" width="1" height="1" fill="#472f7d"/>
<rect x="14" y="6" width="1" height="1" fill="#482878"/>
<rect x="15" y="6" width="1" height="1" fill="#453581"/>
<rect x="16" y="6" width="1" height="1" fill="#46327e"/>
<rect x="17" y="6" width="1" height="1" fill="#46307e"/>
<rect x="18" y="6" width="1" height="1" fill="#443b84"/>
<rect x="19" y="6" width="1" height="1" fill="#472f7d"/>
<rect x="20" y="6" width="1" height="1" fill="#453781"/>
<rect x="21" y="6" width="1" height="1" fill="#3e4a89"/>
<rect x="22" y="6" width="1" height="1" fill="#453781"/>
<rect x="23" y="6" width="1" height="1" fill="#443b84"/>
<rect x="24" y="6" width="1" height="1" fill="#453882"/>
<rect x="25" y="6" width="1" height="1" fill="#453882"/>
<rect x="26" y="6" width="1" height="1" fill="#453882"/>
<rect x="27" y="6" width="1" height="1" fill="#463480"/>
<rect x="28" y="6" width="1" height="1" fill="#453581"/>
<rect x="29" y="6" width="1" height="1" fill="#472f7d"/>
<rect x="0" y="7" width="1" height="1" fill="#30698e"/>
<rect x="1" y="7" width="1" height="1" fill="#306a8e"/>
<rect x="2" y="7" width="1" height="1" fill="#306a8e"/>
<rect x="3" y="7" width="1" height="1" fill="#32648e"/>
<rect x="4" y="7" width="1" height="1" fill="#30698e"/>
<rect x="5" y="7" width="1" height="1" fill="#33628d"/>
<rect x="6" y="7" width="1" height="1" fill="#34618d"/>
<rect x="7" y="7" width="1" height="1" fill="#22a884"/>
<rect x="8" y="7" width="1" height="1" fill="#32648e"/>
<rect x="9" y="7" width="1" height="1" fill="#34618d"/>
<rect x="10" y="7" width="1" height="1" fill="#433d84"/>
<rect x="11" y="7" width="1" height="1" fill="#443b84"/>
<rect x="12" y="7" width="1" height="1" fill="#414487"/>
<rect x="13" y="7" width="1" height="1" fill="#443a83"/>
<rect x="14" y="7" width="1" height="1" fill="#46327e"/>
<rect x="15" y="7" width="1" height="1" fill="#414287"/>
<rect x="16" y="7" width="1" height="1" fill="#443b84"/>
<rect x="17" y="7" width="1" height="1" fill="#443b84"/>
<rect x="18" y="7" width="1" height="1" fill="#414487"/>
<rect x="19" y="7" width="1" height="1" fill="#443a83"/>
<rect x="20" y="7" width="1" height="1" fill="#46327e"/>
<rect x="21" y="7" width="1" height="1" fill="#453882"/>
<rect x="22" y="7" width="1" height="1" fill="#46337f"/>
<rect x="23" y="7" width="1" height="1" fill="#443983"/>
<rect x="24" y="7" width="1" height="1" fill="#46337f"/>
<rect x="25" y="7" width="1" height="1" fill="#463480"/>
<rect x="26" y="7" width="1" height="1" fill="#46337f"/>
<rect x="27" y="7" width="1" height="1" fill="#472f7d"/>
<rect x="28" y="7" width="1" height="1" fill="#472e7c"/>
<rect x="29" y="7" width="1" height="1" fill="#472a7a"/>
<rect x="0" y="8" width="1" height="1" fill="#32648e"/>
<rect x="1" y="8" width="1" height="1" fill="#32658e"/>
<rect x="2" y="8" width="1" height="1" fill="#31668e"/>
<rect x="3" y="8" width="1" height="1" fill="#355e8d"/>
<rect x="4" y="8" width="1" height="1" fill="#33638d"/>
<rect x="5" y="8" width="1" height="1" fill="#365d8d"/>
<rect x="6" y="8" width="1" height="1" fill="#355e8d"/>
<rect x="7" y="8" width="1" height="1" fill="#32648e"/>
<rect x="8" y="8" width="1" height="1" fill="#22a884"/>
<rect x="9" y="8" width="1" height="1" fill="#355e8d"/>
<rect x="10" y="8" width="1" height="1" fill="#404688"/>
<rect x="11" y="8" width="1" height="1" fill="#404588"/>
<rect x="12" y="8" width="1" height="1" fill="#375b8d"/>
<rect x="13" y="8" width="1" height="1" fill="#414287"/>
<rect x="14" y="8" width="1" height="1" fill="#443a83"/>
<rect x="15" y="8" width="1" height="1" fill="#3e4c8a"/>
<rect x="16" y="8" width="1" height="1" fill="#404588"/>
<rect x="17" y="8" width="1" height="1" fill="#404688"/>
<rect x="18" y="8" width="1" height="1" fill="#3d4d8a"/>
<rect x="19" y="8" width="1" height="1" fill="#404588"/>
<rect x="20" y="8" width="1" height="1" fill="#472c7a"/>
<rect x="21" y="8" width="1" height="1" fill="#46337f"/>
<rect x="22" y="8" width="1" height="1" fill="#472e7c"/>
<rect x="23" y="8" width="1" height="1" fill="#46327e"/>
<rect x="24" y="8" width="1" height="1" fill="#472d7b"/>
<rect x="25" y="8" width="1" height="1" fill="#472e7c"/>
<rect x="26" y="8" width="1" height="1" fill="#472d7b"/>
<rect x="27" y="8" width="1" height="1" fill="#472c7a"/>
<rect x="28" y="8" width="1" height="1" fill="#472c7a"/>
<rect x="29" y="8" width="1" height="1" fill="#482374"/>
<rect x="0" y="9" width="1" height="1" fill="#34608d"/>
<rect x="1" y="9" width="1" height="1" fill="#33628d"/>
<rect x="2" y="9" width="1" height="1" fill="#34618d"/>
<rect x="3" y="9" width="1" height="1" fill="#38598c"/>
<rect x="4" y="9" width="1" height="1" fill="#34608d"/>
<rect x="5" y="9" width="1" height="1" fill="#38598c"/>
<rect x="6" y="9" width="1" height="1" fill="#38598c"/>
<rect x="7" y="9" width="1" height="1" fill="#34618d"/>
<rect x="8" y="9" width="1" height="1" fill="#355e8d"/>
<rect x="9" y="9" width="1" height="1" fill="#1f9f88"/>
<rect x="10" y="9" width="1" height="1" fill="#46307e"/>
<rect x="11" y="9" width="1" height="1" fill="#46327e"/>
<rect x="12" y="9" width="1" height="1" fill="#443983"/>
<rect x="13" y="9" width="1" height="1" fill="#472f7d"/>
<rect x="14" y="9" width="1" height="1" fill="#482677"/>
<rect x="15" y="9" width="1" height="1" fill="#453581"/>
<rect x="16" y="9" width="1" height="1" fill="#46337f"/>
<rect x="17" y="9" width="1" height="1" fill="#46327e"/>
<rect x="18" y="9" width="1" height="1" fill="#443983"/>
<rect x="19" y="9" width="1" height="1" fill="#472f7d"/>
<rect x="20" y="9" width="1" height="1" fill="#453581"/>
<rect x="21" y="9" width="1" height="1" fill="#433e85"/>
<rect x="22" y="9" width="1" height="1" fill="#453882"/>
<rect x="23" y="9" width="1" height="1" fill="#3e4c8a"/>
<rect x="24" y="9" width="1" height="1" fill="#453882"/>
<rect x="25" y="9" width="1" height="1" fill="#453882"/>
<rect x="26" y="9" width="1" height="1" fill="#453781"/>
<rect x="27" y="9" width="1" height="1" fill="#453581"/>
<rect x="28" y="9" width="1" height="1" fill="#453581"/>
<rect x="29" y="9" width="1" height="1" fill="#472f7d"/>
<rect x="0" y="10" width="1" height="1" fill="#443a83"/>
<rect x="1" y="10" width="1" height="1" fill="#443a83"/>
<rect x="2" y="10" width="1" height="1" fill="#433d84"/>
<rect x="3" y="10" width="1" height="1" fill="#424186"/>
<rect x="4" y="10" width="1" height="1" fill="#443a83"/>
<rect x="5" y="10" width="1" height="1" fill="#414287"/>
<rect x="6" y="10" width="1" height="1" fill="#46327e"/>
<rect x="7" y="10" width="1" height="1" fill="#433d84"/>
<rect x="8" y="10" width="1" height="1" fill="#404688"/>
<rect x="9" y="10" width="1" height="1" fill="#46307e"/>
<rect x="10" y="10" width="1" height="1" fill="#32b67a"/>
<rect x="11" y="10" width="1" height="1" fill="#228c8d"/>
<rect x="12" y="10" width="1" height="1" fill="#24868e"/>
<rect x="13" y="10" width="1" height="1" fill="#228b8d"/>
<rect x="14" y="10" width="1" height="1" fill="#25848e"/>
<rect x="15" y="10" width="1" height="1" fill="#25838e"/>
<rect x="16" y="10" width="1" height="1" fill="#218e8d"/>
<rect x="17" y="10" width="1" height="1" fill="#228c8d"/>
<rect x="18" y="10" width="1" height="1" fill="#23888e"/>
<rect x="19" y="10" width="1" height="1" fill="#228b8d"/>
<rect x="20" y="10" width="1" height="1" fill="#48186a"/>
<rect x="21" y="10" width="1" height="1" fill="#470e61"/>
<rect x="22" y="10" width="1" height="1" fill="#48186a"/>
<rect x="23" y="10" width="1" height="1" fill="#460b5e"/>
<rect x="24" y="10" width="1" height="1" fill="#481a6c"/>
<rect x="25" y="10" width="1" height="1" fill="#48186a"/>
<rect x="26" y="10" width="1" height="1" fill="#48186a"/>
<rect x="27" y="10" width="1" height="1" fill="#481467"/>
<rect x="28" y="10" width="1" height="1" fill="#481769"/>
<rect x="29" y="10" width="1" height="1" fill="#482374"/>
<rect x="0" y="11" width="1" height="1" fill="#443983"/>
<rect x="1" y="11" width="1" height="1" fill="#443b84"/>
<rect x="2" y="11" width="1" height="1" fill="#433d84"/>
<rect x="3" y="11" width="1" height="1" fill="#424186"/>
<rect x="4" y="11" width="1" height="1" fill="#443b84"/>
<rect x="5" y="11" width="1" height="1" fill="#414287"/>
<rect x="6" y="11" width="1" height="1" fill="#472f7d"/>
<rect x="7" y="11" width="1" height="1" fill="#443b84"/>
<rect x="8" y="11" width="1" height="1" fill="#404588"/>
<rect x="9" y="11" width="1" height="1" fill="#46327e"/>
<rect x="10" y="11" width="1" height="1" fill="#228c8d"/>
<rect x="11" y="11" width="1" height="1" fill="#44bf70"/>
<rect x="12" y="11" width="1" height="1" fill="#24878e"/>
<rect x="13" y="11" width="1" height="1" fill="#228b8d"/>
<rect x="14" y="11" width="1" height="1" fill="#25848e"/>
<rect x="15" y="11" width="1" height="1" fill="#25858e"/>
<rect x="16" y="11" width="1" height="1" fill="#218e8d"/>
<rect x="17" y="11" width="1" height="1" fill="#218e8d"/>
<rect x="18" y="11" width="1" height="1" fill="#24878e"/>
<rect x="19" y="11" width="1" height="1" fill="#238a8d"/>
<rect x="20" y="11" width="1" height="1" fill="#481467"/>
<rect x="21" y="11" width="1" height="1" fill="#460b5e"/>
<rect x="22" y="11" width="1" height="1" fill="#48186a"/>
<rect x="23" y="11" width="1" height="1" fill="#460b5e"/>
<rect x="24" y="11" width="1" height="1" fill="#48186a"/>
<rect x="25" y="11" width="1" height="1" fill="#481b6d"/>
<rect x="26" y="11" width="1" height="1" fill="#481769"/>
<rect x="27" y="11" width="1" height="1" fill="#481668"/>
<rect x="28" y="11" width="1" height="1" fill="#481668"/>
<rect x="29" y="11" width="1" height="1" fill="#482374"/>
<rect x="0" y="12" width="1" height="1" fill="#414487"/>
<rect x="1" y="12" width="1" height="1" fill="#414287"/>
<rect x="2" y="12" width="1" height="1" fill="#414487"/>
<rect x="3" y="12" width="1" height="1" fill="#3e4c8a"/>
<rect x="4" y="12" width="1" height="1" fill="#414287"/>
<rect x="5" y="12" width="1" height="1" fill="#3e4989"/>
<rect x="6" y="12" width="1" height="1" fill="#443a83"/>
<rect x="7" y="12" width="1" height="1" fill="#414487"/>
<rect x="8" y="12" width="1" height="1" fill="#375b8d"/>
<rect x="9" y="12" width="1" height="1" fill="#443983"/>
<rect x="10" y="12" width="1" height="1" fill="#24868e"/>
<rect x="11" y="12" width="1" height="1" fill="#24878e"/>
<rect x="12" y="12" width="1" height="1" fill="#32b67a"/>
<rect x="13" y="12" width="1" height="1" fill="#24868e"/>
<rect x="14" y="12" width="1" height="1" fill="#26818e"/>
<rect x="15" y="12" width="1" height="1" fill="#277f8e"/>
<rect x="16" y="12" width="1" height="1" fill="#24878e"/>
<rect x="17" y="12" width="1" height="1" fill="#23888e"/>
<rect x="18" y="12" width="1" height="1" fill="#25838e"/>
<rect x="19" y="12" width="1" height="1" fill="#25848e"/>
<rect x="20" y="12" width="1" height="1" fill="#470e61"/>
<rect x="21" y="12" width="1" height="1" fill="#450457"/>
<rect x="22" y="12" width="1" height="1" fill="#470e61"/>
<rect x="23" y="12" width="1" height="1" fill="#450559"/>
<rect x="24" y="12" width="1" height="1" fill="#471063"/>
<rect x="25" y="12" width="1" height="1" fill="#471164"/>
<rect x="26" y="12" width="1" height="1" fill="#471063"/>
<rect x="27" y="12" width="1" height="1" fill="#470d60"/>
<rect x="28" y="12" width="1" height="1" fill="#470d60"/>
<rect x="29" y="12" width="1" height="1" fill="#48186a"/>
<rect x="0" y="13" width="1" height="1" fill="#443983"/>
<rect x="1" y="13" width="1" height="1" fill="#443983"/>
<rect x="2" y="13" width="1" height="1" fill="#443a83"/>
<rect x="3" y="13" width="1" height="1" fill="#424086"/>
<rect x="4" y="13" width="1" height="1" fill="#443983"/>
<rect x="5" y="13" width="1" height="1" fill="#423f85"/>
<rect x="6" y="13" width="1" height="1" fill="#472f7d"/>
<rect x="7" y="13" width="1" height="1" fill="#443a83"/>
<rect x="8" y="13" width="1" height="1" fill="#414287"/>
<rect x="9" y="13" width="1" height="1" fill="#472f7d"/>
<rect x="10" y="13" width="1" height="1" fill="#228b8d"/>
<rect x="11" y="13" width="1" height="1" fill="#228b8d"/>
<rect x="12" y="13" width="1" height="1" fill="#24868e"/>
<rect x="13" y="13" width="1" height="1" fill="#63cb5f"/>
<rect x="14" y="13" width="1" height="1" fill="#25848e"/>
<rect x="15" y="13" width="1" height="1" fill="#25848e"/>
<rect x="16" y="13" width="1" height="1" fill="#228d8d"/>
<rect x="17" y="13" width="1" height="1" fill="#228c8d"/>
<rect x="18" y="13" width="1" height="1" fill="#24868e"/>
<rect x="19" y="13" width="1" height="1" fill="#228b8d"/>
<rect x="20" y="13" width="1" height="1" fill="#481668"/>
<rect x="21" y="13" width="1" height="1" fill="#460a5d"/>
<rect x="22" y="13" width="1" height="1" fill="#481769"/>
<rect x="23" y="13" width="1" height="1" fill="#460a5d"/>
<rect x="24" y="13" width="1" height="1" fill="#48186a"/>
<rect x="25" y="13" width="1" height="1" fill="#481769"/>
<rect x="26" y="13" width="1" height="1" fill="#481668"/>
<rect x="27" y="13" width="1" height="1" fill="#481467"/>
<rect x="28" y="13" width="1" height="1" fill="#481467"/>
<rect x="29" y="13" width="1" height="1" fill="#481d6f"/>
<rect x="0" y="14" width="1" height="1" fill="#472f7d"/>
<rect x="1" y="14" width="1" height="1" fill="#46327e"/>
<rect x="2" y="14" width="1" height="1" fill="#46337f"/>
<rect x="3" y="14" width="1" height="1" fill="#453882"/>
<rect x="4" y="14" width="1" height="1" fill="#472f7d"/>
<rect x="5" y="14" width="1" height="1" fill="#453882"/>
<rect x="6" y="14" width="1" height="1" fill="#482878"/>
<rect x="7" y="14" width="1" height="1" fill="#46327e"/>
<rect x="8" y="14" width="1" height="1" fill="#443a83"/>
<rect x="9" y="14" width="1" height="1" fill="#482677"/>
<rect x="10" y="14" width="1" height="1" fill="#25848e"/>
<rect x="11" y="14" width="1" height="1" fill="#25848e"/>
<rect x="12" y="14" width="1" height="1" fill="#26818e"/>
<rect x="13" y="14" width="1" height="1" fill="#25848e"/>
<rect x="14" y="14" width="1" height="1" fill="#3bbb75"/>
<rect x="15" y="14" width="1" height="1" fill="#277e8e"/>
<rect x="16" y="14" width="1" height="1" fill="#24868e"/>
<rect x="17" y="14" width="1" height="1" fill="#24868e"/>
<rect x="18" y="14" width="1" height="1" fill="#27808e"/>
<rect x="19" y="14" width="1" height="1" fill="#25838e"/>
<rect x="20" y="14" width="1" height="1" fill="#481d6f"/>
<rect x="21" y="14" width="1" height="1" fill="#471164"/>
<rect x="22" y="14" width="1" height="1" fill="#482071"/>
<rect x="23" y="14" width="1" height="1" fill="#481668"/>
<rect x="24" y="14" width="1" height="1" fill="#482173"/>
<rect x="25" y="14" width="1" height="1" fill="#482071"/>
<rect x="26" y="14" width="1" height="1" fill="#481d6f"/>
<rect x="27" y="14" width="1" height="1" fill="#481d6f"/>
<rect x="28" y="14" width="1" height="1" fill="#481d6f"/>
<rect x="29" y="14" width="1" height="1" fill="#453781"/>
<rect x="0" y="15" width="1" height="1" fill="#424086"/>
<rect x="1" y="15" width="1" height="1" fill="#424186"/>
<rect x="2" y="15" width="1" height="1" fill="#424186"/>
<rect x="3" y="15" width="1" height="1" fill="#3f4788"/>
<rect x="4" y="15" width="1" height="1" fill="#424086"/>
<rect x="5" y="15" width="1" height="1" fill="#39558c"/>
<rect x="6" y="15" width="1" height="1" fill="#453581"/>
<rect x="7" y="15" width="1" height="1" fill="#414287"/>
<rect x="8" y="15" width="1" height="1" fill="#3e4c8a"/>
<rect x="9" y="15" width="1" height="1" fill="#453581"/>
<rect x="10" y="15" width="1" height="1" fill="#25838e"/>
<rect x="11" y="15" width="1" height="1" fill="#25858e"/>
<rect x="12" y="15" width="1" height="1" fill="#277f8e"/>
<rect x="13" y="15" width="1" height="1" fill="#25848e"/>
<rect x="14" y="15" width="1" height="1" fill="#277e8e"/>
<rect x="15" y="15" width="1" height="1" fill="#32b67a"/>
<rect x="16" y="15" width="1" height="1" fill="#25858e"/>
<rect x="17" y="15" width="1" height="1" fill="#24868e"/>
<rect x="18" y="15" width="1" height="1" fill="#277f8e"/>
<rect x="19" y="15" width="1" height="1" fill="#25838e"/>
<rect x="20" y="15" width="1" height="1" fill="#460b5e"/>
<rect x="21" y="15" width="1" height="1" fill="#440154"/>
<rect x="22" y="15" width="1" height="1" fill="#460b5e"/>
<rect x="24" y="15" width="1" height="1" fill="#470e61"/>
<rect x="25" y="15" width="1" height="1" fill="#471063"/>
<rect x="26" y="15" width="1" height="1" fill="#460b5e"/>
<rect x="27" y="15" width="1" height="1" fill="#46085c"/>
<rect x="28" y="15" width="1" height="1" fill="#460a5d"/>
<rect x="29" y="15" width="1" height="1" fill="#481668"/>
<rect x="0" y="16" width="1" height="1" fill="#443a83"/>
<rect x="1" y="16" width="1" height="1" fill="#443b84"/>
<rect x="2" y="16" width="1" height="1" fill="#443b84"/>
<rect x="3" y="16" width="1" height="1" fill="#424186"/>
<rect x="4" y="16" width="1" height="1" fill="#433d84"/>
<rect x="5" y="16" width="1" height="1" fill="#414287"/>
<rect x="6" y="16" width="1" height="1" fill="#46327e"/>
<rect x="7" y="16" width="1" height="1" fill="#443b84"/>
<rect x="8" y="16" width="1" height="1" fill="#404588"/>
<rect x="9" y="16" width="1" height="1" fill="#46337f"/>
<rect x="10" y="16" width="1" height="1" fill="#218e8d"/>
<rect x="11" y="16" width="1" height="1" fill="#218e8d"/>
<rect x="12" y="16" width="1" height="1" fill="#24878e"/>
<rect x="13" y="16" width="1" height="1" fill="#228d8d"/>
<rect x="14" y="16" width="1" height="1" fill="#24868e"/>
<rect x="15" y="16" width="1" height="1" fill="#25858e"/>
<rect x="16" y="16" width="1" height="1" fill="#44bf70"/>
<rect x="17" y="16" width="1" height="1" fill="#218f8d"/>
<rect x="18" y="16" width="1" height="1" fill="#24878e"/>
<rect x="19" y="16" width="1" height="1" fill="#228c8d"/>
<rect x="20" y="16" width="1" height="1" fill="#481769"/>
<rect x="21" y="16" width="1" height="1" fill="#471063"/>
<rect x="22" y="16" width="1" height="1" fill="#481c6e"/>
<rect x="23" y="16" width="1" height="1" fill="#471063"/>
<rect x="24" y="16" width="1" height="1" fill="#481a6c"/>
<rect x="25" y="16" width="1" height="1" fill="#481a6c"/>
<rect x="26" y="16" width="1" height="1" fill="#481a6c"/>
<rect x="27" y="16" width="1" height="1" fill="#481769"/>
<rect x="28" y="16" width="1" height="1" fill="#481668"/>
<rect x="29" y="16" width="1" height="1" fill="#482374"/>
<rect x="0" y="17" width="1" height="1" fill="#443a83"/>
<rect x="1" y="17" width="1" height="1" fill="#433d84"/>
<rect x="2" y="17" width="1" height="1" fill="#433e85"/>
<rect x="3" y="17" width="1" height="1" fill="#414287"/>
<rect x="4" y="17" width="1" height="1" fill="#433d84"/>
<rect x="5" y="17" width="1" height="1" fill="#424186"/>
<rect x="6" y="17" width="1" height="1" fill="#46307e"/>
<rect x="7" y="17" width="1" height="1" fill="#443b84"/>
<rect x="8" y="17" width="1" height="1" fill="#404688"/>
<rect x="9" y="17" width="1" height="1" fill="#46327e"/>
<rect x="10" y="17" width="1" height="1" fill="#228c8d"/>
<rect x="11" y="17" width="1" height="1" fill="#218e8d"/>
<rect x="12" y="17" width="1" height="1" fill="#23888e"/>
<rect x="13" y="17" width="1" height="1" fill="#228c8d"/>
<rect x="14" y="17" width="1" height="1" fill="#24868e"/>
<rect x="15" y="17" width="1" height="1" fill="#24868e"/>
<rect x="16" y="17" width="1" height="1" fill="#218f8d"/>
<rect x="17" y="17" width="1" height="1" fill="#32b67a"/>
<rect x="18" y="17" width="1" height="1" fill="#23888e"/>
<rect x="19" y="17" width="1" height="1" fill="#228b8d"/>
<rect x="20" y="17" width="1" height="1" fill="#48186a"/>
<rect x="21" y="17" width="1" height="1" fill="#470e61"/>
<rect x="22" y="17" width="1" height="1" fill="#481a6c"/>
<rect x="23" y="17" width="1" height="1" fill="#470d60"/>
<rect x="24" y="17" width="1" height="1" fill="#481b6d"/>
<rect x="25" y="17" width="1" height="1" fill="#481b6d"/>
<rect x="26" y="17" width="1" height="1" fill="#481b6d"/>
<rect x="27" y="17" width="1" height="1" fill="#481769"/>
<rect x="28" y="17" width="1" height="1" fill="#481769"/>
<rect x="29" y="17" width="1" height="1" fill="#482475"/>
<rect x="0" y="18" width="1" height="1" fill="#414287"/>
<rect x="1" y="18" width="1" height="1" fill="#414287"/>
<rect x="2" y="18" width="1" height="1" fill="#414487"/>
<rect x="3" y="18" width="1" height="1" fill="#375a8c"/>
<rect x="4" y="18" width="1" height="1" fill="#414487"/>
<rect x="5" y="18" width="1" height="1" fill="#3e4989"/>
<rect x="6" y="18" width="1" height="1" fill="#443b84"/>
<rect x="7" y="18" width="1" height="1" fill="#414487"/>
<rect x="8" y="18" width="1" height="1" fill="#3d4d8a"/>
<rect x="9" y="18" width="1" height="1" fill="#443983"/>
<rect x="10" y="18" width="1" height="1" fill="#23888e"/>
<rect x="11" y="18" width="1" height="1" fill="#24878e"/>
<rect x="12" y="18" width="1" height="1" fill="#25838e"/>
<rect x="13" y="18" width="1" height="1" fill="#24868e"/>
<rect x="14" y="18" width="1" height="1" fill="#27808e"/>
<rect x="15" y="18" width="1" height="1" fill="#277f8e"/>
<rect x="16" y="18" width="1" height="1" fill="#24878e"/>
<rect x="17" y="18" width="1" height="1" fill="#23888e"/>
<rect x="18" y="18" width="1" height="1" fill="#4ec36b"/>
<rect x="19" y="18" width="1" height="1" fill="#24868e"/>
<rect x="20" y="18" width="1" height="1" fill="#471063"/>
<rect x="21" y="18" width="1" height="1" fill="#46075a"/>
<rect x="22" y="18" width="1" height="1" fill="#471365"/>
<rect x="23" y="18" width="1" height="1" fill="#440256"/>
<rect x="24" y="18" width="1" height="1" fill="#471164"/>
<rect x="25" y="18" width="1" height="1" fill="#471365"/>
<rect x="26" y="18" width="1" height="1" fill="#471164"/>
<rect x="27" y="18" width="1" height="1" fill="#470d60"/>
<rect x="28" y="18" width="1" height="1" fill="#471063"/>
<rect x="29" y="18" width="1" height="1" fill="#481a6c"/>
<rect x="0" y="19" width="1" height="1" fill="#443983"/>
<rect x="1" y="19" width="1" height="1" fill="#443983"/>
<rect x="2" y="19" width="1" height="1" fill="#453882"/>
<rect x="3" y="19" width="1" height="1" fill="#424186"/>
<rect x="4" y="19" width="1" height="1" fill="#453781"/>
<rect x="5" y="19" width="1" height="1" fill="#424086"/>
<rect x="6" y="19" width="1" height="1" fill="#472f7d"/>
<rect x="7" y="19" width="1" height="1" fill="#443a83"/>
<rect x="8" y="19" width="1" height="1" fill="#404588"/>
<rect x="9" y="19" width="1" height="1" fill="#472f7d"/>
<rect x="10" y="19" width="1" height="1" fill="#228b8d"/>
<rect x="11" y="19" width="1" height="1" fill="#238a8d"/>
<rect x="12" y="19" width="1" height="1" fill="#25848e"/>
<rect x="13" y="19" width="1" height="1" fill="#228b8d"/>
<rect x="14" y="19" width="1" height="1" fill="#25838e"/>
<rect x="15" y="19" width="1" height="1" fill="#25838e"/>
<rect x="16" y="19" width="1" height="1" fill="#228c8d"/>
<rect x="17" y="19" width="1" height="1" fill="#228b8d"/>
<rect x="18" y="19" width="1" height="1" fill="#24868e"/>
<rect x="19" y="19" width="1" height="1" fill="#2cb17e"/>
<rect x="20" y="19" width="1" height="1" fill="#481668"/>
<rect x="21" y="19" width="1" height="1" fill="#460a5d"/>
<rect x="22" y="19" width="1" height="1" fill="#481769"/>
<rect x="23" y="19" width="1" height="1" fill="#46085c"/>
<rect x="24" y="19" width="1" height="1" fill="#48186a"/>
<rect x="25" y="19" width="1" height="1" fill="#481769"/>
<rect x="26" y="19" width="1" height="1" fill="#481769"/>
<rect x="27" y="19" width="1" height="1" fill="#471365"/>
<rect x="28" y="19" width="1" height="1" fill="#481668"/>
<rect x="29" y="19" width="1" height="1" fill="#481d6f"/>
<rect x="0" y="20" width="1" height="1" fill="#472e7c"/>
<rect x="1" y="20" width="1" height="1" fill="#472f7d"/>
<rect x="2" y="20" width="1" height="1" fill="#472f7d"/>
<rect x="3" y="20" width="1" height="1" fill="#482677"/>
<rect x="4" y="20" width="1" height="1" fill="#46327e"/>
<rect x="5" y="20" width="1" height="1" fill="#482878"/>
<rect x="6" y="20" width="1" height="1" fill="#453781"/>
<rect x="7" y="20" width="1" height="1" fill="#46327e"/>
<rect x="8" y="20" width="1" height="1" fill="#472c7a"/>
<rect x="9" y="20" width="1" height="1" fill="#453581"/>
<rect x="10" y="20" width="1" height="1" fill="#48186a"/>
<rect x="11" y="20" width="1" height="1" fill="#481467"/>
<rect x="12" y="20" width="1" height="1" fill="#470e61"/>
<rect x="13" y="20" width="1" height="1" fill="#481668"/>
<rect x="14" y="20" width="1" height="1" fill="#481d6f"/>
<rect x="15" y="20" width="1" height="1" fill="#460b5e"/>
<rect x="16" y="20" width="1" height="1" fill="#481769"/>
<rect x="17" y="20" width="1" height="1" fill="#48186a"/>
<rect x="18" y="20" width="1" height="1" fill="#471063"/>
<rect x="19" y="20" width="1" height="1" fill="#481668"/>
<rect x="20" y="20" width="1" height="1" fill="#a2da37"/>
<rect x="21" y="20" width="1" height="1" fill="#22a884"/>
<rect x="22" y="20" width="1" height="1" fill="#32b67a"/>
<rect x="23" y="20" width="1" height="1" fill="#23a983"/>
<rect x="24" y="20" width="1" height="1" fill="#34b679"/>
<rect x="25" y="20" width="1" height="1" fill="#34b679"/>
<rect x="26" y="20" width="1" height="1" fill="#32b67a"/>
<rect x="27" y="20" width="1" height="1" fill="#31b57b"/>
<rect x="28" y="20" width="1" height="1" fill="#2eb37c"/>
<rect x="29" y="20" width="1" height="1" fill="#25ab82"/>
<rect x="0" y="21" width="1" height="1" fill="#453781"/>
<rect x="1" y="21" width="1" height="1" fill="#453781"/>
<rect x="2" y="21" width="1" height="1" fill="#453882"/>
<rect x="3" y="21" width="1" height="1" fill="#472e7c"/>
<rect x="4" y="21" width="1" height="1" fill="#453781"/>
<rect x="5" y="21" width="1" height="1" fill="#472e7c"/>
<rect x="6" y="21" width="1" height="1" fill="#3e4a89"/>
<rect x="7" y="21" width="1" height="1" fill="#453882"/>
<rect x="8" y="21" width="1" height="1" fill="#46337f"/>
<rect x="9" y="21" width="1" height="1" fill="#433e85"/>
<rect x="10" y="21" width="1" height="1" fill="#470e61"/>
<rect x="11" y="21" width="1" height="1" fill="#460b5e"/>
<rect x="12" y="21" width="1" height="1" fill="#450457"/>
<rect x="13" y="21" width="1" height="1" fill="#460a5d"/>
<rect x="14" y="21" width="1" height="1" fill="#471164"/>
<rect x="15" y="21" width="1" height="1" fill="#440154"/>
<rect x="16" y="21" width="1" height="1" fill="#471063"/>
<rect x="17" y="21" width="1" height="1" fill="#470e61"/>
<rect x="18" y="21" width="1" height="1" fill="#46075a"/>
<rect x="19" y="21" width="1" height="1" fill="#460a5d"/>
<rect x="20" y="21" width="1" height="1" fill="#22a884"/>
<rect x="21" y="21" width="1" height="1" fill="#63cb5f"/>
<rect x="22" y="21" width="1" height="1" fill="#24aa83"/>
<rect x="23" y="21" width="1" height="1" fill="#1e9c89"/>
<rect x="24" y="21" width="1" height="1" fill="#24aa83"/>
<rect x="25" y="21" width="1" height="1" fill="#25ac82"/>
<rect x="26" y="21" width="1" height="1" fill="#24aa83"/>
<rect x="27" y="21" width="1" height="1" fill="#22a884"/>
<rect x="28" y="21" width="1" height="1" fill="#23a983"/>
<rect x="29" y="21" width="1" height="1" fill="#1f9e89"/>
<rect x="0" y="22" width="1" height="1" fill="#46307e"/>
<rect x="1" y="22" width="1" height="1" fill="#46327e"/>
<rect x="2" y="22" width="1" height="1" fill="#46337f"/>
<rect x="3" y="22" width="1" height="1" fill="#482878"/>
<rect x="4" y="22" width="1" height="1" fill="#46337f"/>
<rect x="5" y="22" width="1" height="1" fill="#482878"/>
<rect x="6" y="22" width="1" height="1" fill="#453781"/>
<rect x="7" y="22" width="1" height="1" fill="#46337f"/>
<rect x="8" y="22" width="1" height="1" fill="#472e7c"/>
<rect x="9" y="22" width="1" height="1" fill="#453882"/>
<rect x="10" y="22" width="1" height="1" fill="#48186a"/>
<rect x="11" y="22" width="1" height="1" fill="#48186a"/>
<rect x="12" y="22" width="1" height="1" fill="#470e61"/>
<rect x="13" y="22" width="1" height="1" fill="#481769"/>
<rect x="14" y="22" width="1" height="1" fill="#482071"/>
<rect x="15" y="22" width="1" height="1" fill="#460b5e"/>
<rect x="16" y="22" width="1" height="1" fill="#481c6e"/>
<rect x="17" y="22" width="1" height="1" fill="#481a6c"/>
<rect x="18" y="22" width="1" height="1" fill="#471365"/>
<rect x="19" y="22" width="1" height="1" fill="#481769"/>
<rect x="20" y="22" width="1" height="1" fill="#32b67a"/>
<rect x="21" y="22" width="1" height="1" fill="#24aa83"/>
<rect x="22" y="22" width="1" height="1" fill="#d8e219"/>
<rect x="23" y="22" width="1" height="1" fill="#24aa83"/>
<rect x="24" y="22" width="1" height="1" fill="#35b779"/>
<rect x="25" y="22" width="1" height="1" fill="#35b779"/>
<rect x="26" y="22" width="1" height="1" fill="#37b878"/>
<rect x="27" y="22" width="1" height="1" fill="#34b679"/>
<rect x="28" y="22" width="1" height="1" fill="#32b67a"/>
<rect x="29" y="22" width="1" height="1" fill="#25ac82"/>
<rect x="0" y="23" width="1" height="1" fill="#453581"/>
<rect x="1" y="23" width="1" height="1" fill="#453781"/>
<rect x="2" y="23" width="1" height="1" fill="#443983"/>
<rect x="3" y="23" width="1" height="1" fill="#472e7c"/>
<rect x="4" y="23" width="1" height="1" fill="#453781"/>
<rect x="5" y="23" width="1" height="1" fill="#472d7b"/>
<rect x="6" y="23" width="1" height="1" fill="#443b84"/>
<rect x="7" y="23" width="1" height="1" fill="#443983"/>
<rect x="8" y="23" width="1" height="1" fill="#46327e"/>
<rect x="9" y="23" width="1" height="1" fill="#3e4c8a"/>
<rect x="10" y="23" width="1" height="1" fill="#460b5e"/>
<rect x="11" y="23" width="1" height="1" fill="#460b5e"/>
<rect x="12" y="23" width="1" height="1" fill="#450559"/>
<rect x="13" y="23" width="1" height="1" fill="#460a5d"/>
<rect x="14" y="23" width="1" height="1" fill="#481668"/>
<rect x="16" y="23" width="1" height="1" fill="#471063"/>
<rect x="17" y="23" width="1" height="1" fill="#470d60"/>
<rect x="18" y="23" width="1" height="1" fill="#440256"/>
<rect x="19" y="23" width="1" height="1" fill="#46085c"/>
<rect x="20" y="23" width="1" height="1" fill="#23a983"/>
<rect x="21" y="23" width="1" height="1" fill="#1e9c89"/>
<rect x="22" y="23" width="1" height="1" fill="#24aa83"/>
<rect x="23" y="23" width="1" height="1" fill="#4ec36b"/>
<rect x="24" y="23" width="1" height="1" fill="#25ab82"/>
<rect x="25" y="23" width="1" height="1" fill="#25ac82"/>
<rect x="26" y="23" width="1" height="1" fill="#24aa83"/>
<rect x="27" y="23" width="1" height="1" fill="#22a785"/>
<rect x="28" y="23" width="1" height="1" fill="#24aa83"/>
<rect x="29" y="23" width="1" height="1" fill="#1f9e89"/>
<rect x="0" y="24" width="1" height="1" fill="#46307e"/>
<rect x="1" y="24" width="1" height="1" fill="#46337f"/>
<rect x="2" y="24" width="1" height="1" fill="#463480"/>
<rect x="3" y="24" width="1" height="1" fill="#482878"/>
<rect x="4" y="24" width="1" height="1" fill="#46327e"/>
<rect x="5" y="24" width="1" height="1" fill="#482979"/>
<rect x="6" y="24" width="1" height="1" fill="#453882"/>
<rect x="7" y="24" width="1" height="1" fill="#46337f"/>
<rect x="8" y="24" width="1" height="1" fill="#472d7b"/>
<rect x="9" y="24" width="1" height="1" fill="#453882"/>
<rect x="10" y="24" width="1" height="1" fill="#481a6c"/>
<rect x="11" y="24" width="1" height="1" fill="#48186a"/>
<rect x="12" y="24" width="1" height="1" fill="#471063"/>
<rect x="13" y="24" width="1" height="1" fill="#48186a"/>
<rect x="14" y="24" width="1" height="1" fill="#482173"/>
<rect x="15" y="24" width="1" height="1" fill="#470e61"/>
<rect x="16" y="24" width="1" height="1" fill="#481a6c"/>
<rect x="17" y="24" width="1" height="1" fill="#481b6d"/>
<rect x="18" y="24" width="1" height="1" fill="#471164"/>
<rect x="19" y="24" width="1" height="1" fill="#48186a"/>
<rect x="20" y="24" width="1" height="1" fill="#34b679"/>
<rect x="21" y="24" width="1" height="1" fill="#24aa83"/>
<rect x="22" y="24" width="1" height="1" fill="#35b779"/>
<rect x="23" y="24" width="1" height="1" fill="#25ab82"/>
<rect x="24" y="24" width="1" height="1" fill="#a2da37"/>
<rect x="25" y="24" width="1" height="1" fill="#38b977"/>
<rect x="26" y="24" width="1" height="1" fill="#35b779"/>
<rect x="27" y="24" width="1" height="1" fill="#34b679"/>
<rect x="28" y="24" width="1" height="1" fill="#32b67a"/>
<rect x="29" y="24" width="1" height="1" fill="#26ad81"/>
<rect x="0" y="25" width="1" height="1" fill="#46337f"/>
<rect x="1" y="25" width="1" height="1" fill="#46337f"/>
<rect x="2" y="25" width="1" height="1" fill="#46337f"/>
<rect x="3" y="25" width="1" height="1" fill="#472c7a"/>
<rect x="4" y="25" width="1" height="1" fill="#46337f"/>
<rect x="5" y="25" width="1" height="1" fill="#482979"/>
<rect x="6" y="25" width="1" height="1" fill="#453882"/>
<rect x="7" y="25" width="1" height="1" fill="#463480"/>
<rect x="8" y="25" width="1" height="1" fill="#472e7c"/>
<rect x="9" y="25" width="1" height="1" fill="#453882"/>
<rect x="10" y="25" width="1" height="1" fill="#48186a"/>
<rect x="11" y="25" width="1" height="1" fill="#481b6d"/>
<rect x="12" y="25" width="1" height="1" fill="#471164"/>
<rect x="13" y="25" width="1" height="1" fill="#481769"/>
<rect x="14" y="25" width="1" height="1" fill="#482071"/>
<rect x="15" y="25" width="1" height="1" fill="#471063"/>
<rect x="16" y="25" width="1" height="1" fill="#481a6c"/>
<rect x="17" y="25" width="1" height="1" fill="#481b6d"/>
<rect x="18" y="25" width="1" height="1" fill="#471365"/>
<rect x="19" y="25" width="1" height="1" fill="#481769"/>
<rect x="20" y="25" width="1" height="1" fill="#34b679"/>
<rect x="21" y="25" width="1" height="1" fill="#25ac82"/>
<rect x="22" y="25" width="1" height="1" fill="#35b779"/>
<rect x="23" y="25" width="1" height="1" fill="#25ac82"/>
<rect x="24" y="25" width="1" height="1" fill="#38b977"/>
<rect x="25" y="25" width="1" height="1" fill="#b0dd2f"/>
<rect x="26" y="25" width="1" height="1" fill="#37b878"/>
<rect x="27" y="25" width="1" height="1" fill="#34b679"/>
<rect x="28" y="25" width="1" height="1" fill="#34b679"/>
<rect x="29" y="25" width="1" height="1" fill="#26ad81"/>
<rect x="0" y="26" width="1" height="1" fill="#472f7d"/>
<rect x="1" y="26" width="1" height="1" fill="#46307e"/>
<rect x="2" y="26" width="1" height="1" fill="#46337f"/>
<rect x="3" y="26" width="1" height="1" fill="#482979"/>
<rect x="4" y="26" width="1" height="1" fill="#46327e"/>
<rect x="5" y="26" width="1" height="1" fill="#482878"/>
<rect x="6" y="26" width="1" height="1" fill="#453882"/>
<rect x="7" y="26" width="1" height="1" fill="#46337f"/>
<rect x="8" y="26" width="1" height="1" fill="#472d7b"/>
<rect x="9" y="26" width="1" height="1" fill="#453781"/>
<rect x="10" y="26" width="1" height="1" fill="#48186a"/>
<rect x="11" y="26" width="1" height="1" fill="#481769"/>
<rect x="12" y="26" width="1" height="1" fill="#471063"/>
<rect x="13" y="26" width="1" height="1" fill="#481668"/>
<rect x="14" y="26" width="1" height="1" fill="#481d6f"/>
<rect x="15" y="26" width="1" height="1" fill="#460b5e"/>
<rect x="16" y="26" width="1" height="1" fill="#481a6c"/>
<rect x="17" y="26" width="1" height="1" fill="#481b6d"/>
<rect x="18" y="26" width="1" height="1" fill="#471164"/>
<rect x="19" y="26" width="1" height="1" fill="#481769"/>
<rect x="20" y="26" width="1" height="1" fill="#32b67a"/>
<rect x="21" y="26" width="1" height="1" fill="#24aa83"/>
<rect x="22" y="26" width="1" height="1" fill="#37b878"/>
<rect x="23" y="26" width="1" height="1" fill="#24aa83"/>
<rect x="24" y="26" width="1" height="1" fill="#35b779"/>
<rect x="25" y="26" width="1" height="1" fill="#37b878"/>
<rect x="26" y="26" width="1" height="1" fill="#86d549"/>
<rect x="27" y="26" width="1" height="1" fill="#32b67a"/>
<rect x="28" y="26" width="1" height="1" fill="#31b57b"/>
<rect x="29" y="26" width="1" height="1" fill="#24aa83"/>
<rect x="0" y="27" width="1" height="1" fill="#472d7b"/>
<rect x="1" y="27" width="1" height="1" fill="#472f7d"/>
<rect x="2" y="27" width="1" height="1" fill="#472f7d"/>
<rect x="3" y="27" width="1" height="1" fill="#482576"/>
<rect x="4" y="27" width="1" height="1" fill="#472f7d"/>
<rect x="5" y="27" width="1" height="1" fill="#482677"/>
<rect x="6" y="27" width="1" height="1" fill="#463480"/>
<rect x="7" y="27" width="1" height="1" fill="#472f7d"/>
<rect x="8" y="27" width="1" height="1" fill="#472c7a"/>
<rect x="9" y="27" width="1" height="1" fill="#453581"/>
<rect x="10" y="27" width="1" height="1" fill="#481467"/>
<rect x="11" y="27" width="1" height="1" fill="#481668"/>
<rect x="12" y="27" width="1" height="1" fill="#470d60"/>
<rect x="13" y="27" width="1" height="1" fill="#481467"/>
<rect x="14" y="27" width="1" height="1" fill="#481d6f"/>
<rect x="15" y="27" width="1" height="1" fill="#46085c"/>
<rect x="16" y="27" width="1" height="1" fill="#481769"/>
<rect x="17" y="27" width="1" height="1" fill="#481769"/>
<rect x="18" y="27" width="1" height="1" fill="#470d60"/>
<rect x="19" y="27" width="1" height="1" fill="#471365"/>
<rect x="20" y="27" width="1" height="1" fill="#31b57b"/>
<rect x="21" y="27" width="1" height="1" fill="#22a884"/>
<rect x="22" y="27" width="1" height="1" fill="#34b679"/>
<rect x="23" y="27" width="1" height="1" fill="#22a785"/>
<rect x="24" y="27" width="1" height="1" fill="#34b679"/>
<rect x="25" y="27" width="1" height="1" fill="#34b679"/>
<rect x="26" y="27" width="1" height="1" fill="#32b67a"/>
<rect x="27" y="27" width="1" height="1" fill="#63cb5f"/>
<rect x="28" y="27" width="1" height="1" fill="#2fb47c"/>
<rect x="29" y="27" width="1" height="1" fill="#24aa83"/>
<rect x="0" y="28" width="1" height="1" fill="#472f7d"/>
<rect x="1" y="28" width="1" height="1" fill="#46307e"/>
<rect x="2" y="28" width="1" height="1" fill="#46327e"/>
<rect x="3" y="28" width="1" height="1" fill="#482677"/>
<rect x="4" y="28" width="1" height="1" fill="#46307e"/>
<rect x="5" y="28" width="1" height="1" fill="#482677"/>
<rect x="6" y="28" width="1" height="1" fill="#453581"/>
<rect x="7" y="28" width="1" height="1" fill="#472e7c"/>
<rect x="8" y="28" width="1" height="1" fill="#472c7a"/>
<rect x="9" y="28" width="1" height="1" fill="#453581"/>
<rect x="10" y="28" width="1" height="1" fill="#481769"/>
<rect x="11" y="28" width="1" height="1" fill="#481668"/>
<rect x="12" y="28" width="1" height="1" fill="#470d60"/>
<rect x="13" y="28" width="1" height="1" fill="#481467"/>
<rect x="14" y="28" width="1" height="1" fill="#481d6f"/>
<rect x="15" y="28" width="1" height="1" fill="#460a5d"/>
<rect x="16" y="28" width="1" height="1" fill="#481668"/>
<rect x="17" y="28" width="1" height="1" fill="#481769"/>
<rect x="18" y="28" width="1" height="1" fill="#471063"/>
<rect x="19" y="28" width="1" height="1" fill="#481668"/>
<rect x="20" y="28" width="1" height="1" fill="#2eb37c"/>
<rect x="21" y="28" width="1" height="1" fill="#23a983"/>
<rect x="22" y="28" width="1" height="1" fill="#32b67a"/>
<rect x="23" y="28" width="1" height="1" fill="#24aa83"/>
<rect x="24" y="28" width="1" height="1" fill="#32b67a"/>
<rect x="25" y="28" width="1" height="1" fill="#34b679"/>
<rect x="26" y="28" width="1" height="1" fill="#31b57b"/>
<rect x="27" y="28" width="1" height="1" fill="#2fb47c"/>
<rect x="28" y="28" width="1" height="1" fill="#63cb5f"/>
<rect x="29" y="28" width="1" height="1" fill="#25ab82"/>
<rect x="0" y="29" width="1" height="1" fill="#482979"/>
<rect x="1" y="29" width="1" height="1" fill="#472a7a"/>
<rect x="2" y="29" width="1" height="1" fill="#472c7a"/>
<rect x="3" y="29" width="1" height="1" fill="#481f70"/>
<rect x="4" y="29" width="1" height="1" fill="#482878"/>
<rect x="5" y="29" width="1" height="1" fill="#481d6f"/>
<rect x="6" y="29" width="1" height="1" fill="#472f7d"/>
<rect x="7" y="29" width="1" height="1" fill="#472a7a"/>
<rect x="8" y="29" width="1" height="1" fill="#482374"/>
<rect x="9" y="29" width="1" height="1" fill="#472f7d"/>
<rect x="10" y="29" width="1" height="1" fill="#482374"/>
<rect x="11" y="29" width="1" height="1" fill="#482374"/>
<rect x="12" y="29" width="1" height="1" fill="#48186a"/>
<rect x="13" y="29" width="1" height="1" fill="#481d6f"/>
<rect x="14" y="29" width="1" height="1" fill="#453781"/>
<rect x="15" y="29" width="1" height="1" fill="#481668"/>
<rect x="16" y="29" width="1" height="1" fill="#482374"/>
<rect x="17" y="29" width="1" height="1" fill="#482475"/>
<rect x="18" y="29" width="1" height="1" fill="#481a6c"/>
<rect x="19" y="29" width="1" height="1" fill="#481d6f"/>
<rect x="20" y="29" width="1" height="1" fill="#25ab82"/>
<rect x="21" y="29" width="1" height="1" fill="#1f9e89"/>
<rect x="22" y="29" width="1" height="1" fill="#25ac82"/>
<rect x="23" y="29" width="1" height="1" fill="#1f9e89"/>
<rect x="24" y="29" width="1" height="1" fill="#26ad81"/>
<rect x="25" y="29" width="1" height="1" fill="#26ad81"/>
<rect x="26" y="29" width="1" height="1" fill="#24aa83"/>
<rect x="27" y="29" width="1" height="1" fill="#24aa83"/>
<rect x="28" y="29" width="1" height="1" fill="#25ab82"/>
<rect x="29" y="29" width="1" height="1" fill="#86d549"/>
</svg>
<rect x="592.00" y="37.40" width="148.80" height="148.60" fill="none" stroke="#0a0a0a" stroke-width="0.9"/>
<svg x="383.80" y="218.50" width="150.10" height="149.60" viewBox="0 0 30 30" preserveAspectRatio="none" shape-rendering="crispEdges">
<rect width="30" height="30" fill="#440154"/>
<rect x="1" y="0" width="1" height="1" fill="#1e9c89"/>
<rect x="2" y="0" width="1" height="1" fill="#21918c"/>
<rect x="3" y="0" width="1" height="1" fill="#1f978b"/>
<rect x="4" y="0" width="1" height="1" fill="#1f998a"/>
<rect x="5" y="0" width="1" height="1" fill="#1f9a8a"/>
<rect x="6" y="0" width="1" height="1" fill="#1f978b"/>
<rect x="7" y="0" width="1" height="1" fill="#1f948c"/>
<rect x="8" y="0" width="1" height="1" fill="#20938c"/>
<rect x="9" y="0" width="1" height="1" fill="#20928c"/>
<rect x="0" y="1" width="1" height="1" fill="#1e9c89"/>
<rect x="2" y="1" width="1" height="1" fill="#1f988b"/>
<rect x="3" y="1" width="1" height="1" fill="#1f998a"/>
<rect x="4" y="1" width="1" height="1" fill="#1e9b8a"/>
<rect x="5" y="1" width="1" height="1" fill="#1f978b"/>
<rect x="6" y="1" width="1" height="1" fill="#1e9c89"/>
<rect x="7" y="1" width="1" height="1" fill="#1f968b"/>
<rect x="8" y="1" width="1" height="1" fill="#1f988b"/>
<rect x="0" y="2" width="1" height="1" fill="#21918c"/>
<rect x="1" y="2" width="1" height="1" fill="#1f988b"/>
<rect x="3" y="2" width="1" height="1" fill="#1f958b"/>
<rect x="5" y="2" width="1" height="1" fill="#1f978b"/>
<rect x="7" y="2" width="1" height="1" fill="#21908d"/>
<rect x="8" y="2" width="1" height="1" fill="#20928c"/>
<rect x="9" y="2" width="1" height="1" fill="#218f8d"/>
<rect x="0" y="3" width="1" height="1" fill="#1f978b"/>
<rect x="1" y="3" width="1" height="1" fill="#1f998a"/>
<rect x="2" y="3" width="1" height="1" fill="#1f958b"/>
<rect x="5" y="3" width="1" height="1" fill="#1f988b"/>
<rect x="6" y="3" width="1" height="1" fill="#1f9a8a"/>
<rect x="7" y="3" width="1" height="1" fill="#1f968b"/>
<rect x="8" y="3" width="1" height="1" fill="#1f958b"/>
<rect x="9" y="3" width="1" height="1" fill="#218f8d"/>
<rect x="18" y="3" width="1" height="1" fill="#6ece58"/>
<rect x="0" y="4" width="1" height="1" fill="#1f998a"/>
<rect x="1" y="4" width="1" height="1" fill="#1e9b8a"/>
<rect x="5" y="4" width="1" height="1" fill="#1f9e89"/>
<rect x="6" y="4" width="1" height="1" fill="#1f9e89"/>
<rect x="7" y="4" width="1" height="1" fill="#1f958b"/>
<rect x="8" y="4" width="1" height="1" fill="#20928c"/>
<rect x="9" y="4" width="1" height="1" fill="#1f958b"/>
<rect x="0" y="5" width="1" height="1" fill="#1f9a8a"/>
<rect x="1" y="5" width="1" height="1" fill="#1f978b"/>
<rect x="2" y="5" width="1" height="1" fill="#1f978b"/>
<rect x="3" y="5" width="1" height="1" fill="#1f988b"/>
<rect x="4" y="5" width="1" height="1" fill="#1f9e89"/>
<rect x="6" y="5" width="1" height="1" fill="#1f9f88"/>
<rect x="7" y="5" width="1" height="1" fill="#1f958b"/>
<rect x="8" y="5" width="1" height="1" fill="#1f958b"/>
<rect x="15" y="5" width="1" height="1" fill="#6ece58"/>
<rect x="0" y="6" width="1" height="1" fill="#1f978b"/>
<rect x="1" y="6" width="1" height="1" fill="#1e9c89"/>
<rect x="3" y="6" width="1" height="1" fill="#1f9a8a"/>
<rect x="4" y="6" width="1" height="1" fill="#1f9e89"/>
<rect x="5" y="6" width="1" height="1" fill="#1f9f88"/>
<rect x="7" y="6" width="1" height="1" fill="#20928c"/>
<rect x="8" y="6" width="1" height="1" fill="#1f9a8a"/>
<rect x="9" y="6" width="1" height="1" fill="#1f958b"/>
<rect x="21" y="6" width="1" height="1" fill="#d8e219"/>
<rect x="0" y="7" width="1" height="1" fill="#1f948c"/>
<rect x="1" y="7" width="1" height="1" fill="#1f968b"/>
<rect x="2" y="7" width="1" height="1" fill="#21908d"/>
<rect x="3" y="7" width="1" height="1" fill="#1f968b"/>
<rect x="4" y="7" width="1" height="1" fill="#1f958b"/>
<rect x="5" y="7" width="1" height="1" fill="#1f958b"/>
<rect x="6" y="7" width="1" height="1" fill="#20928c"/>
<rect x="8" y="7" width="1" height="1" fill="#21908d"/>
<rect x="9" y="7" width="1" height="1" fill="#21918c"/>
<rect x="0" y="8" width="1" height="1" fill="#20938c"/>
<rect x="1" y="8" width="1" height="1" fill="#1f988b"/>
<rect x="2" y="8" width="1" height="1" fill="#20928c"/>
<rect x="3" y="8" width="1" height="1" fill="#1f958b"/>
<rect x="4" y="8" width="1" height="1" fill="#20928c"/>
<rect x="5" y="8" width="1" height="1" fill="#1f958b"/>
<rect x="6" y="8" width="1" height="1" fill="#1f9a8a"/>
<rect x="7" y="8" width="1" height="1" fill="#21908d"/>
<rect x="9" y="8" width="1" height="1" fill="#1f978b"/>
<rect x="12" y="8" width="1" height="1" fill="#6ece58"/>
<rect x="0" y="9" width="1" height="1" fill="#20928c"/>
<rect x="2" y="9" width="1" height="1" fill="#218f8d"/>
<rect x="3" y="9" width="1" height="1" fill="#218f8d"/>
<rect x="4" y="9" width="1" height="1" fill="#1f958b"/>
<rect x="6" y="9" width="1" height="1" fill="#1f958b"/>
<rect x="7" y="9" width="1" height="1" fill="#21918c"/>
<rect x="8" y="9" width="1" height="1" fill="#1f978b"/>
<rect x="23" y="9" width="1" height="1" fill="#d8e219"/>
<rect x="11" y="10" width="1" height="1" fill="#20928c"/>
<rect x="12" y="10" width="1" height="1" fill="#218f8d"/>
<rect x="13" y="10" width="1" height="1" fill="#218f8d"/>
<rect x="14" y="10" width="1" height="1" fill="#21908d"/>
<rect x="15" y="10" width="1" height="1" fill="#238a8d"/>
<rect x="16" y="10" width="1" height="1" fill="#21908d"/>
<rect x="17" y="10" width="1" height="1" fill="#218f8d"/>
<rect x="18" y="10" width="1" height="1" fill="#20938c"/>
<rect x="19" y="10" width="1" height="1" fill="#218f8d"/>
<rect x="10" y="11" width="1" height="1" fill="#20928c"/>
<rect x="12" y="11" width="1" height="1" fill="#1f978b"/>
<rect x="13" y="11" width="1" height="1" fill="#1f978b"/>
<rect x="14" y="11" width="1" height="1" fill="#20938c"/>
<rect x="16" y="11" width="1" height="1" fill="#1f968b"/>
<rect x="18" y="11" width="1" height="1" fill="#1f958b"/>
<rect x="19" y="11" width="1" height="1" fill="#20928c"/>
<rect x="8" y="12" width="1" height="1" fill="#6ece58"/>
<rect x="10" y="12" width="1" height="1" fill="#218f8d"/>
<rect x="11" y="12" width="1" height="1" fill="#1f978b"/>
<rect x="13" y="12" width="1" height="1" fill="#1f958b"/>
<rect x="14" y="12" width="1" height="1" fill="#1f968b"/>
<rect x="15" y="12" width="1" height="1" fill="#20928c"/>
<rect x="17" y="12" width="1" height="1" fill="#1f968b"/>
<rect x="18" y="12" width="1" height="1" fill="#1f978b"/>
<rect x="19" y="12" width="1" height="1" fill="#21908d"/>
<rect x="10" y="13" width="1" height="1" fill="#218f8d"/>
<rect x="11" y="13" width="1" height="1" fill="#1f978b"/>
<rect x="12" y="13" width="1" height="1" fill="#1f958b"/>
<rect x="15" y="13" width="1" height="1" fill="#20928c"/>
<rect x="16" y="13" width="1" height="1" fill="#20928c"/>
<rect x="17" y="13" width="1" height="1" fill="#1f948c"/>
<rect x="19" y="13" width="1" height="1" fill="#1f958b"/>
<rect x="10" y="14" width="1" height="1" fill="#21908d"/>
<rect x="11" y="14" width="1" height="1" fill="#20938c"/>
<rect x="12" y="14" width="1" height="1" fill="#1f968b"/>
<rect x="15" y="14" width="1" height="1" fill="#20928c"/>
<rect x="16" y="14" width="1" height="1" fill="#20928c"/>
<rect x="17" y="14" width="1" height="1" fill="#1f958b"/>
<rect x="18" y="14" width="1" height="1" fill="#20928c"/>
<rect x="19" y="14" width="1" height="1" fill="#20928c"/>
<rect x="29" y="14" width="1" height="1" fill="#d8e219"/>
<rect x="5" y="15" width="1" height="1" fill="#6ece58"/>
<rect x="10" y="15" width="1" height="1" fill="#238a8d"/>
<rect x="12" y="15" width="1" height="1" fill="#20928c"/>
<rect x="13" y="15" width="1" height="1" fill="#20928c"/>
<rect x="14" y="15" width="1" height="1" fill="#20928c"/>
<rect x="16" y="15" width="1" height="1" fill="#218f8d"/>
<rect x="17" y="15" width="1" height="1" fill="#1f958b"/>
<rect x="18" y="15" width="1" height="1" fill="#228d8d"/>
<rect x="19" y="15" width="1" height="1" fill="#21918c"/>
<rect x="10" y="16" width="1" height="1" fill="#21908d"/>
<rect x="11" y="16" width="1" height="1" fill="#1f968b"/>
<rect x="13" y="16" width="1" height="1" fill="#20928c"/>
<rect x="14" y="16" width="1" height="1" fill="#20928c"/>
<rect x="15" y="16" width="1" height="1" fill="#218f8d"/>
<rect x="17" y="16" width="1" height="1" fill="#1f958b"/>
<rect x="18" y="16" width="1" height="1" fill="#228d8d"/>
<rect x="19" y="16" width="1" height="1" fill="#21918c"/>
<rect x="10" y="17" width="1" height="1" fill="#218f8d"/>
<rect x="12" y="17" width="1" height="1" fill="#1f968b"/>
<rect x="13" y="17" width="1" height="1" fill="#1f948c"/>
<rect x="14" y="17" width="1" height="1" fill="#1f958b"/>
<rect x="15" y="17" width="1" height="1" fill="#1f958b"/>
<rect x="16" y="17" width="1" height="1" fill="#1f958b"/>
<rect x="18" y="17" width="1" height="1" fill="#20928c"/>
<rect x="19" y="17" width="1" height="1" fill="#21918c"/>
<rect x="3" y="18" width="1" height="1" fill="#6ece58"/>
<rect x="10" y="18" width="1" height="1" fill="#20938c"/>
<rect x="11" y="18" width="1" height="1" fill="#1f958b"/>
<rect x="12" y="18" width="1" height="1" fill="#1f978b"/>
<rect x="14" y="18" width="1" height="1" fill="#20928c"/>
<rect x="15" y="18" width="1" height="1" fill="#228d8d"/>
<rect x="16" y="18" width="1" height="1" fill="#228d8d"/>
<rect x="17" y="18" width="1" height="1" fill="#20928c"/>
<rect x="19" y="18" width="1" height="1" fill="#20938c"/>
<rect x="10" y="19" width="1" height="1" fill="#218f8d"/>
<rect x="11" y="19" width="1" height="1" fill="#20928c"/>
<rect x="12" y="19" width="1" height="1" fill="#21908d"/>
<rect x="13" y="19" width="1" height="1" fill="#1f958b"/>
<rect x="14" y="19" width="1" height="1" fill="#20928c"/>
<rect x="15" y="19" width="1" height="1" fill="#21918c"/>
<rect x="16" y="19" width="1" height="1" fill="#21918c"/>
<rect x="17" y="19" width="1" height="1" fill="#21918c"/>
<rect x="18" y="19" width="1" height="1" fill="#20938c"/>
<rect x="21" y="20" width="1" height="1" fill="#21908d"/>
<rect x="22" y="20" width="1" height="1" fill="#1f988b"/>
<rect x="23" y="20" width="1" height="1" fill="#1f978b"/>
<rect x="24" y="20" width="1" height="1" fill="#1f988b"/>
<rect x="25" y="20" width="1" height="1" fill="#1f978b"/>
<rect x="26" y="20" width="1" height="1" fill="#1f978b"/>
<rect x="27" y="20" width="1" height="1" fill="#1f948c"/>
<rect x="28" y="20" width="1" height="1" fill="#20928c"/>
<rect x="6" y="21" width="1" height="1" fill="#d8e219"/>
<rect x="20" y="21" width="1" height="1" fill="#21908d"/>
<rect x="22" y="21" width="1" height="1" fill="#21918c"/>
<rect x="25" y="21" width="1" height="1" fill="#1f968b"/>
<rect x="26" y="21" width="1" height="1" fill="#20928c"/>
<rect x="27" y="21" width="1" height="1" fill="#228b8d"/>
<rect x="28" y="21" width="1" height="1" fill="#20928c"/>
<rect x="29" y="21" width="1" height="1" fill="#218f8d"/>
<rect x="20" y="22" width="1" height="1" fill="#1f988b"/>
<rect x="21" y="22" width="1" height="1" fill="#21918c"/>
<rect x="24" y="22" width="1" height="1" fill="#1f988b"/>
<rect x="26" y="22" width="1" height="1" fill="#1e9d89"/>
<rect x="27" y="22" width="1" height="1" fill="#1f998a"/>
<rect x="28" y="22" width="1" height="1" fill="#1f978b"/>
<rect x="29" y="22" width="1" height="1" fill="#1f968b"/>
<rect x="9" y="23" width="1" height="1" fill="#d8e219"/>
<rect x="20" y="23" width="1" height="1" fill="#1f978b"/>
<rect x="24" y="23" width="1" height="1" fill="#1f968b"/>
<rect x="25" y="23" width="1" height="1" fill="#1f998a"/>
<rect x="26" y="23" width="1" height="1" fill="#1f948c"/>
<rect x="27" y="23" width="1" height="1" fill="#228d8d"/>
<rect x="28" y="23" width="1" height="1" fill="#1f988b"/>
<rect x="29" y="23" width="1" height="1" fill="#20928c"/>
<rect x="20" y="24" width="1" height="1" fill="#1f988b"/>
<rect x="22" y="24" width="1" height="1" fill="#1f988b"/>
<rect x="23" y="24" width="1" height="1" fill="#1f968b"/>
<rect x="25" y="24" width="1" height="1" fill="#1e9c89"/>
<rect x="26" y="24" width="1" height="1" fill="#1f988b"/>
<rect x="27" y="24" width="1" height="1" fill="#1f958b"/>
<rect x="28" y="24" width="1" height="1" fill="#1f958b"/>
<rect x="29" y="24" width="1" height="1" fill="#1f9a8a"/>
<rect x="20" y="25" width="1" height="1" fill="#1f978b"/>
<rect x="21" y="25" width="1" height="1" fill="#1f968b"/>
<rect x="23" y="25" width="1" height="1" fill="#1f998a"/>
<rect x="24" y="25" width="1" height="1" fill="#1e9c89"/>
<rect x="26" y="25" width="1" height="1" fill="#1e9b8a"/>
<rect x="27" y="25" width="1" height="1" fill="#1f958b"/>
<rect x="28" y="25" width="1" height="1" fill="#1f988b"/>
<rect x="29" y="25" width="1" height="1" fill="#1f998a"/>
<rect x="20" y="26" width="1" height="1" fill="#1f978b"/>
<rect x="21" y="26" width="1" height="1" fill="#20928c"/>
<rect x="22" y="26" width="1" height="1" fill="#1e9d89"/>
<rect x="23" y="26" width="1" height="1" fill="#1f948c"/>
<rect x="24" y="26" width="1" height="1" fill="#1f988b"/>
<rect x="25" y="26" width="1" height="1" fill="#1e9b8a"/>
<rect x="27" y="26" width="1" height="1" fill="#1f948c"/>
<rect x="28" y="26" width="1" height="1" fill="#1f948c"/>
<rect x="29" y="26" width="1" height="1" fill="#20928c"/>
<rect x="20" y="27" width="1" height="1" fill="#1f948c"/>
<rect x="21" y="27" width="1" height="1" fill="#228b8d"/>
<rect x="22" y="27" width="1" height="1" fill="#1f998a"/>
<rect x="23" y="27" width="1" height="1" fill="#228d8d"/>
<rect x="24" y="27" width="1" height="1" fill="#1f958b"/>
<rect x="25" y="27" width="1" height="1" fill="#1f958b"/>
<rect x="26" y="27" width="1" height="1" fill="#1f948c"/>
<rect x="28" y="27" width="1" height="1" fill="#20928c"/>
<rect x="29" y="27" width="1" height="1" fill="#20928c"/>
<rect x="20" y="28" width="1" height="1" fill="#20928c"/>
<rect x="21" y="28" width="1" height="1" fill="#20928c"/>
<rect x="22" y="28" width="1" height="1" fill="#1f978b"/>
<rect x="23" y="28" width="1" height="1" fill="#1f988b"/>
<rect x="24" y="28" width="1" height="1" fill="#1f958b"/>
<rect x="25" y="28" width="1" height="1" fill="#1f988b"/>
<rect x="26" y="28" width="1" height="1" fill="#1f948c"/>
<rect x="27" y="28" width="1" height="1" fill="#20928c"/>
<rect x="29" y="28" width="1" height="1" fill="#1f988b"/>
<rect x="14" y="29" width="1" height="1" fill="#d8e219"/>
<rect x="21" y="29" width="1" height="1" fill="#218f8d"/>
<rect x="22" y="29" width="1" height="1" fill="#1f968b"/>
<rect x="23" y="29" width="1" height="1" fill="#20928c"/>
<rect x="24" y="29" width="1" height="1" fill="#1f9a8a"/>
<rect x="25" y="29" width="1" height="1" fill="#1f998a"/>
<rect x="26" y="29" width="1" height="1" fill="#20928c"/>
<rect x="27" y="29" width="1" height="1" fill="#20928c"/>
<rect x="28" y="29" width="1" height="1" fill="#1f988b"/>
</svg>
<rect x="383.80" y="218.50" width="150.10" height="149.60" fill="none" stroke="#0a0a0a" stroke-width="0.9"/>
<svg x="592.00" y="218.60" width="148.70" height="149.50" viewBox="0 0 30 30" preserveAspectRatio="none" shape-rendering="crispEdges">
<rect width="30" height="30" fill="#440154"/>
<rect x="1" y="0" width="1" height="1" fill="#1e9c89"/>
<rect x="2" y="0" width="1" height="1" fill="#21918c"/>
<rect x="3" y="0" width="1" height="1" fill="#1f978b"/>
<rect x="4" y="0" width="1" height="1" fill="#1f998a"/>
<rect x="5" y="0" width="1" height="1" fill="#1f9a8a"/>
<rect x="6" y="0" width="1" height="1" fill="#1f978b"/>
<rect x="7" y="0" width="1" height="1" fill="#1f948c"/>
<rect x="8" y="0" width="1" height="1" fill="#20938c"/>
<rect x="9" y="0" width="1" height="1" fill="#20928c"/>
<rect x="0" y="1" width="1" height="1" fill="#1e9c89"/>
<rect x="2" y="1" width="1" height="1" fill="#1f988b"/>
<rect x="3" y="1" width="1" height="1" fill="#1f998a"/>
<rect x="4" y="1" width="1" height="1" fill="#26ad81"/>
<rect x="5" y="1" width="1" height="1" fill="#1f978b"/>
<rect x="6" y="1" width="1" height="1" fill="#1e9c89"/>
<rect x="7" y="1" width="1" height="1" fill="#1f968b"/>
<rect x="8" y="1" width="1" height="1" fill="#1f988b"/>
<rect x="0" y="2" width="1" height="1" fill="#21918c"/>
<rect x="1" y="2" width="1" height="1" fill="#1f988b"/>
<rect x="3" y="2" width="1" height="1" fill="#1f958b"/>
<rect x="5" y="2" width="1" height="1" fill="#1f978b"/>
<rect x="7" y="2" width="1" height="1" fill="#21908d"/>
<rect x="8" y="2" width="1" height="1" fill="#20928c"/>
<rect x="9" y="2" width="1" height="1" fill="#218f8d"/>
<rect x="0" y="3" width="1" height="1" fill="#1f978b"/>
<rect x="1" y="3" width="1" height="1" fill="#1f998a"/>
<rect x="2" y="3" width="1" height="1" fill="#1f958b"/>
<rect x="5" y="3" width="1" height="1" fill="#1f988b"/>
<rect x="6" y="3" width="1" height="1" fill="#1f9a8a"/>
<rect x="7" y="3" width="1" height="1" fill="#1f968b"/>
<rect x="8" y="3" width="1" height="1" fill="#1f958b"/>
<rect x="9" y="3" width="1" height="1" fill="#218f8d"/>
<rect x="18" y="3" width="1" height="1" fill="#6ece58"/>
<rect x="0" y="4" width="1" height="1" fill="#1f998a"/>
<rect x="1" y="4" width="1" height="1" fill="#26ad81"/>
<rect x="5" y="4" width="1" height="1" fill="#1f9e89"/>
<rect x="6" y="4" width="1" height="1" fill="#1f9e89"/>
<rect x="7" y="4" width="1" height="1" fill="#1f958b"/>
<rect x="8" y="4" width="1" height="1" fill="#20928c"/>
<rect x="9" y="4" width="1" height="1" fill="#1f958b"/>
<rect x="0" y="5" width="1" height="1" fill="#1f9a8a"/>
<rect x="1" y="5" width="1" height="1" fill="#1f978b"/>
<rect x="2" y="5" width="1" height="1" fill="#1f978b"/>
<rect x="3" y="5" width="1" height="1" fill="#1f988b"/>
<rect x="4" y="5" width="1" height="1" fill="#1f9e89"/>
<rect x="6" y="5" width="1" height="1" fill="#1f9f88"/>
<rect x="7" y="5" width="1" height="1" fill="#58c765"/>
<rect x="8" y="5" width="1" height="1" fill="#1f958b"/>
<rect x="15" y="5" width="1" height="1" fill="#6ece58"/>
<rect x="0" y="6" width="1" height="1" fill="#1f978b"/>
<rect x="1" y="6" width="1" height="1" fill="#1e9c89"/>
<rect x="3" y="6" width="1" height="1" fill="#1f9a8a"/>
<rect x="4" y="6" width="1" height="1" fill="#1f9e89"/>
<rect x="5" y="6" width="1" height="1" fill="#1f9f88"/>
<rect x="7" y="6" width="1" height="1" fill="#20928c"/>
<rect x="8" y="6" width="1" height="1" fill="#1f9a8a"/>
<rect x="9" y="6" width="1" height="1" fill="#1f958b"/>
<rect x="21" y="6" width="1" height="1" fill="#d8e219"/>
<rect x="0" y="7" width="1" height="1" fill="#1f948c"/>
<rect x="1" y="7" width="1" height="1" fill="#1f968b"/>
<rect x="2" y="7" width="1" height="1" fill="#21908d"/>
<rect x="3" y="7" width="1" height="1" fill="#1f968b"/>
<rect x="4" y="7" width="1" height="1" fill="#1f958b"/>
<rect x="5" y="7" width="1" height="1" fill="#58c765"/>
<rect x="6" y="7" width="1" height="1" fill="#20928c"/>
<rect x="8" y="7" width="1" height="1" fill="#21908d"/>
<rect x="9" y="7" width="1" height="1" fill="#21918c"/>
<rect x="0" y="8" width="1" height="1" fill="#20938c"/>
<rect x="1" y="8" width="1" height="1" fill="#1f988b"/>
<rect x="2" y="8" width="1" height="1" fill="#20928c"/>
<rect x="3" y="8" width="1" height="1" fill="#1f958b"/>
<rect x="4" y="8" width="1" height="1" fill="#20928c"/>
<rect x="5" y="8" width="1" height="1" fill="#1f958b"/>
<rect x="6" y="8" width="1" height="1" fill="#1f9a8a"/>
<rect x="7" y="8" width="1" height="1" fill="#21908d"/>
<rect x="9" y="8" width="1" height="1" fill="#1f978b"/>
<rect x="12" y="8" width="1" height="1" fill="#6ece58"/>
<rect x="0" y="9" width="1" height="1" fill="#20928c"/>
<rect x="2" y="9" width="1" height="1" fill="#218f8d"/>
<rect x="3" y="9" width="1" height="1" fill="#218f8d"/>
<rect x="4" y="9" width="1" height="1" fill="#1f958b"/>
<rect x="6" y="9" width="1" height="1" fill="#1f958b"/>
<rect x="7" y="9" width="1" height="1" fill="#21918c"/>
<rect x="8" y="9" width="1" height="1" fill="#1f978b"/>
<rect x="23" y="9" width="1" height="1" fill="#d8e219"/>
<rect x="11" y="10" width="1" height="1" fill="#58c765"/>
<rect x="12" y="10" width="1" height="1" fill="#218f8d"/>
<rect x="13" y="10" width="1" height="1" fill="#218f8d"/>
<rect x="14" y="10" width="1" height="1" fill="#21908d"/>
<rect x="15" y="10" width="1" height="1" fill="#238a8d"/>
<rect x="16" y="10" width="1" height="1" fill="#21908d"/>
<rect x="17" y="10" width="1" height="1" fill="#218f8d"/>
<rect x="18" y="10" width="1" height="1" fill="#20938c"/>
<rect x="19" y="10" width="1" height="1" fill="#218f8d"/>
<rect x="10" y="11" width="1" height="1" fill="#58c765"/>
<rect x="12" y="11" width="1" height="1" fill="#1f978b"/>
<rect x="13" y="11" width="1" height="1" fill="#1f978b"/>
<rect x="14" y="11" width="1" height="1" fill="#20938c"/>
<rect x="16" y="11" width="1" height="1" fill="#1f968b"/>
<rect x="18" y="11" width="1" height="1" fill="#1f958b"/>
<rect x="19" y="11" width="1" height="1" fill="#20928c"/>
<rect x="8" y="12" width="1" height="1" fill="#6ece58"/>
<rect x="10" y="12" width="1" height="1" fill="#218f8d"/>
<rect x="11" y="12" width="1" height="1" fill="#1f978b"/>
<rect x="13" y="12" width="1" height="1" fill="#1f958b"/>
<rect x="14" y="12" width="1" height="1" fill="#1f968b"/>
<rect x="15" y="12" width="1" height="1" fill="#20928c"/>
<rect x="17" y="12" width="1" height="1" fill="#1f968b"/>
<rect x="18" y="12" width="1" height="1" fill="#1f978b"/>
<rect x="19" y="12" width="1" height="1" fill="#21908d"/>
<rect x="10" y="13" width="1" height="1" fill="#218f8d"/>
<rect x="11" y="13" width="1" height="1" fill="#1f978b"/>
<rect x="12" y="13" width="1" height="1" fill="#1f958b"/>
<rect x="15" y="13" width="1" height="1" fill="#20928c"/>
<rect x="16" y="13" width="1" height="1" fill="#20928c"/>
<rect x="17" y="13" width="1" height="1" fill="#1f948c"/>
<rect x="19" y="13" width="1" height="1" fill="#1f958b"/>
<rect x="10" y="14" width="1" height="1" fill="#21908d"/>
<rect x="11" y="14" width="1" height="1" fill="#20938c"/>
<rect x="12" y="14" width="1" height="1" fill="#1f968b"/>
<rect x="15" y="14" width="1" height="1" fill="#20928c"/>
<rect x="16" y="14" width="1" height="1" fill="#20928c"/>
<rect x="17" y="14" width="1" height="1" fill="#1f958b"/>
<rect x="18" y="14" width="1" height="1" fill="#20928c"/>
<rect x="19" y="14" width="1" height="1" fill="#20928c"/>
<rect x="29" y="14" width="1" height="1" fill="#d8e219"/>
<rect x="5" y="15" width="1" height="1" fill="#6ece58"/>
<rect x="10" y="15" width="1" height="1" fill="#238a8d"/>
<rect x="12" y="15" width="1" height="1" fill="#20928c"/>
<rect x="13" y="15" width="1" height="1" fill="#20928c"/>
<rect x="14" y="15" width="1" height="1" fill="#20928c"/>
<rect x="16" y="15" width="1" height="1" fill="#218f8d"/>
<rect x="17" y="15" width="1" height="1" fill="#1f958b"/>
<rect x="18" y="15" width="1" height="1" fill="#58c765"/>
<rect x="19" y="15" width="1" height="1" fill="#21918c"/>
<rect x="10" y="16" width="1" height="1" fill="#21908d"/>
<rect x="11" y="16" width="1" height="1" fill="#1f968b"/>
<rect x="13" y="16" width="1" height="1" fill="#20928c"/>
<rect x="14" y="16" width="1" height="1" fill="#20928c"/>
<rect x="15" y="16" width="1" height="1" fill="#218f8d"/>
<rect x="17" y="16" width="1" height="1" fill="#1f958b"/>
<rect x="18" y="16" width="1" height="1" fill="#228d8d"/>
<rect x="19" y="16" width="1" height="1" fill="#21918c"/>
<rect x="10" y="17" width="1" height="1" fill="#218f8d"/>
<rect x="12" y="17" width="1" height="1" fill="#1f968b"/>
<rect x="13" y="17" width="1" height="1" fill="#1f948c"/>
<rect x="14" y="17" width="1" height="1" fill="#1f958b"/>
<rect x="15" y="17" width="1" height="1" fill="#1f958b"/>
<rect x="16" y="17" width="1" height="1" fill="#1f958b"/>
<rect x="18" y="17" width="1" height="1" fill="#20928c"/>
<rect x="19" y="17" width="1" height="1" fill="#21918c"/>
<rect x="3" y="18" width="1" height="1" fill="#6ece58"/>
<rect x="10" y="18" width="1" height="1" fill="#20938c"/>
<rect x="11" y="18" width="1" height="1" fill="#1f958b"/>
<rect x="12" y="18" width="1" height="1" fill="#1f978b"/>
<rect x="14" y="18" width="1" height="1" fill="#20928c"/>
<rect x="15" y="18" width="1" height="1" fill="#58c765"/>
<rect x="16" y="18" width="1" height="1" fill="#228d8d"/>
<rect x="17" y="18" width="1" height="1" fill="#20928c"/>
<rect x="19" y="18" width="1" height="1" fill="#20938c"/>
<rect x="10" y="19" width="1" height="1" fill="#218f8d"/>
<rect x="11" y="19" width="1" height="1" fill="#20928c"/>
<rect x="12" y="19" width="1" height="1" fill="#21908d"/>
<rect x="13" y="19" width="1" height="1" fill="#1f958b"/>
<rect x="14" y="19" width="1" height="1" fill="#20928c"/>
<rect x="15" y="19" width="1" height="1" fill="#21918c"/>
<rect x="16" y="19" width="1" height="1" fill="#21918c"/>
<rect x="17" y="19" width="1" height="1" fill="#21918c"/>
<rect x="18" y="19" width="1" height="1" fill="#20938c"/>
<rect x="21" y="20" width="1" height="1" fill="#21908d"/>
<rect x="22" y="20" width="1" height="1" fill="#1f988b"/>
<rect x="23" y="20" width="1" height="1" fill="#1f978b"/>
<rect x="24" y="20" width="1" height="1" fill="#1f988b"/>
<rect x="25" y="20" width="1" height="1" fill="#58c765"/>
<rect x="26" y="20" width="1" height="1" fill="#1f978b"/>
<rect x="27" y="20" width="1" height="1" fill="#1f948c"/>
<rect x="28" y="20" width="1" height="1" fill="#20928c"/>
<rect x="6" y="21" width="1" height="1" fill="#d8e219"/>
<rect x="20" y="21" width="1" height="1" fill="#21908d"/>
<rect x="22" y="21" width="1" height="1" fill="#21918c"/>
<rect x="25" y="21" width="1" height="1" fill="#1f968b"/>
<rect x="26" y="21" width="1" height="1" fill="#20928c"/>
<rect x="27" y="21" width="1" height="1" fill="#228b8d"/>
<rect x="28" y="21" width="1" height="1" fill="#20928c"/>
<rect x="29" y="21" width="1" height="1" fill="#218f8d"/>
<rect x="20" y="22" width="1" height="1" fill="#1f988b"/>
<rect x="21" y="22" width="1" height="1" fill="#21918c"/>
<rect x="24" y="22" width="1" height="1" fill="#1f988b"/>
<rect x="26" y="22" width="1" height="1" fill="#1e9d89"/>
<rect x="27" y="22" width="1" height="1" fill="#1f998a"/>
<rect x="28" y="22" width="1" height="1" fill="#1f978b"/>
<rect x="29" y="22" width="1" height="1" fill="#1f968b"/>
<rect x="9" y="23" width="1" height="1" fill="#d8e219"/>
<rect x="20" y="23" width="1" height="1" fill="#1f978b"/>
<rect x="24" y="23" width="1" height="1" fill="#1f968b"/>
<rect x="25" y="23" width="1" height="1" fill="#1f998a"/>
<rect x="26" y="23" width="1" height="1" fill="#1f948c"/>
<rect x="27" y="23" width="1" height="1" fill="#228d8d"/>
<rect x="28" y="23" width="1" height="1" fill="#1f988b"/>
<rect x="29" y="23" width="1" height="1" fill="#20928c"/>
<rect x="20" y="24" width="1" height="1" fill="#1f988b"/>
<rect x="22" y="24" width="1" height="1" fill="#1f988b"/>
<rect x="23" y="24" width="1" height="1" fill="#1f968b"/>
<rect x="25" y="24" width="1" height="1" fill="#1e9c89"/>
<rect x="26" y="24" width="1" height="1" fill="#1f988b"/>
<rect x="27" y="24" width="1" height="1" fill="#1f958b"/>
<rect x="28" y="24" width="1" height="1" fill="#1f958b"/>
<rect x="29" y="24" width="1" height="1" fill="#1f9a8a"/>
<rect x="20" y="25" width="1" height="1" fill="#58c765"/>
<rect x="21" y="25" width="1" height="1" fill="#1f968b"/>
<rect x="23" y="25" width="1" height="1" fill="#1f998a"/>
<rect x="24" y="25" width="1" height="1" fill="#1e9c89"/>
<rect x="26" y="25" width="1" height="1" fill="#1e9b8a"/>
<rect x="27" y="25" width="1" height="1" fill="#1f958b"/>
<rect x="28" y="25" width="1" height="1" fill="#1f988b"/>
<rect x="29" y="25" width="1" height="1" fill="#1f998a"/>
<rect x="20" y="26" width="1" height="1" fill="#1f978b"/>
<rect x="21" y="26" width="1" height="1" fill="#20928c"/>
<rect x="22" y="26" width="1" height="1" fill="#1e9d89"/>
<rect x="23" y="26" width="1" height="1" fill="#1f948c"/>
<rect x="24" y="26" width="1" height="1" fill="#1f988b"/>
<rect x="25" y="26" width="1" height="1" fill="#1e9b8a"/>
<rect x="27" y="26" width="1" height="1" fill="#1f948c"/>
<rect x="28" y="26" width="1" height="1" fill="#1f948c"/>
<rect x="29" y="26" width="1" height="1" fill="#20928c"/>
<rect x="20" y="27" width="1" height="1" fill="#1f948c"/>
<rect x="21" y="27" width="1" height="1" fill="#228b8d"/>
<rect x="22" y="27" width="1" height="1" fill="#1f998a"/>
<rect x="23" y="27" width="1" height="1" fill="#228d8d"/>
<rect x="24" y="27" width="1" height="1" fill="#1f958b"/>
<rect x="25" y="27" width="1" height="1" fill="#1f958b"/>
<rect x="26" y="27" width="1" height="1" fill="#1f948c"/>
<rect x="28" y="27" width="1" height="1" fill="#20928c"/>
<rect x="29" y="27" width="1" height="1" fill="#20928c"/>
<rect x="20" y="28" width="1" height="1" fill="#20928c"/>
<rect x="21" y="28" width="1" height="1" fill="#20928c"/>
<rect x="22" y="28" width="1" height="1" fill="#1f978b"/>
<rect x="23" y="28" width="1" height="1" fill="#1f988b"/>
<rect x="24" y="28" width="1" height="1" fill="#1f958b"/>
<rect x="25" y="28" width="1" height="1" fill="#1f988b"/>
<rect x="26" y="28" width="1" height="1" fill="#1f948c"/>
<rect x="27" y="28" width="1" height="1" fill="#20928c"/>
<rect x="29" y="28" width="1" height="1" fill="#1f988b"/>
<rect x="14" y="29" width="1" height="1" fill="#d8e219"/>
<rect x="21" y="29" width="1" height="1" fill="#218f8d"/>
<rect x="22" y="29" width="1" height="1" fill="#1f968b"/>
<rect x="23" y="29" width="1" height="1" fill="#20928c"/>
<rect x="24" y="29" width="1" height="1" fill="#1f9a8a"/>
<rect x="25" y="29" width="1" height="1" fill="#1f998a"/>
<rect x="26" y="29" width="1" height="1" fill="#20928c"/>
<rect x="27" y="29" width="1" height="1" fill="#20928c"/>
<rect x="28" y="29" width="1" height="1" fill="#1f988b"/>
</svg>
<rect x="592.00" y="218.60" width="148.70" height="149.50" fill="none" stroke="#0a0a0a" stroke-width="0.9"/>
<defs><linearGradient id="cb" x1="0" y1="0" x2="0" y2="1"><stop offset="0.00" stop-color="#fde725"/><stop offset="0.05" stop-color="#dfe318"/><stop offset="0.10" stop-color="#bddf26"/><stop offset="0.15" stop-color="#9bd93c"/><stop offset="0.20" stop-color="#7ad151"/><stop offset="0.25" stop-color="#5ec962"/><stop offset="0.30" stop-color="#44bf70"/><stop offset="0.35" stop-color="#2fb47c"/><stop offset="0.40" stop-color="#22a884"/><stop offset="0.45" stop-color="#1e9c89"/><stop offset="0.50" stop-color="#21918c"/><stop offset="0.55" stop-color="#25848e"/><stop offset="0.60" stop-color="#2a788e"/><stop offset="0.65" stop-color="#2f6c8e"/><stop offset="0.70" stop-color="#355f8d"/><stop offset="0.75" stop-color="#3b528b"/><stop offset="0.80" stop-color="#414487"/><stop offset="0.85" stop-color="#463480"/><stop offset="0.90" stop-color="#482475"/><stop offset="0.95" stop-color="#471365"/><stop offset="1.00" stop-color="#440154"/></linearGradient></defs>
<rect x="768" y="66" width="14" height="268" fill="url(#cb)"/>
<text x="777.5" y="59.9" text-anchor="middle" style="font-size:21.2px">high</text>
<text x="777.6" y="354.6" text-anchor="middle" style="font-size:21.5px">low</text>

<text x="820.5" y="35.2" style="font-size:45px;stroke:#231f20;stroke-width:0.55px">c</text>
<path d="M877.40 35.40L877.40 41.60M880.08 36.95L874.72 40.05M880.08 40.05L874.72 36.95" stroke="#231f20" stroke-width="0.90" stroke-linecap="round"/>
<text x="914.1" y="42.8" text-anchor="middle" style="font-family:'Liberation Serif',serif;font-size:14.5px"><tspan font-style="italic">a</tspan><tspan font-size="10.2px" dy="2.5">12</tspan></text>
<text x="950.5" y="42.8" text-anchor="middle" style="font-family:'Liberation Serif',serif;font-size:14.5px"><tspan font-style="italic">a</tspan><tspan font-size="10.2px" dy="2.5">13</tspan></text>
<text x="877.4" y="61.3" text-anchor="middle" style="font-family:'Liberation Serif',serif;font-size:14.5px"><tspan font-style="italic">a</tspan><tspan font-size="10.2px" dy="2.5">12</tspan></text>
<path d="M914.10 53.90L914.10 60.10M916.78 55.45L911.42 58.55M916.78 58.55L911.42 55.45" stroke="#231f20" stroke-width="0.90" stroke-linecap="round"/>
<text x="950.5" y="61.3" text-anchor="middle" style="font-family:'Liberation Serif',serif;font-size:14.5px"><tspan font-style="italic">a</tspan><tspan font-size="10.2px" dy="2.5">23</tspan></text>
<text x="877.4" y="79.6" text-anchor="middle" style="font-family:'Liberation Serif',serif;font-size:14.5px"><tspan font-style="italic">a</tspan><tspan font-size="10.2px" dy="2.5">13</tspan></text>
<text x="914.1" y="79.6" text-anchor="middle" style="font-family:'Liberation Serif',serif;font-size:14.5px"><tspan font-style="italic">a</tspan><tspan font-size="10.2px" dy="2.5">23</tspan></text>
<path d="M950.50 72.20L950.50 78.40M953.18 73.75L947.82 76.85M953.18 76.85L947.82 73.75" stroke="#231f20" stroke-width="0.90" stroke-linecap="round"/>
<path d="M866.90 28.80 C854.90 45.45 854.90 67.65 866.90 84.30 C856.90 67.65 856.90 45.45 866.90 28.80 Z" fill="#231f20" stroke="#231f20" stroke-width="0.45"/>
<path d="M961.40 28.80 C973.40 45.45 973.40 67.65 961.40 84.30 C971.40 67.65 971.40 45.45 961.40 28.80 Z" fill="#231f20" stroke="#231f20" stroke-width="0.45"/><path d="M1026.50 34.20L1026.50 40.40M1029.18 35.75L1023.82 38.85M1029.18 38.85L1023.82 35.75" stroke="#231f20" stroke-width="0.90" stroke-linecap="round"/>
<text x="1063.1" y="41.6" text-anchor="middle" style="font-family:'Liberation Serif',serif;font-size:14.5px"><tspan font-style="italic">a</tspan><tspan font-size="10.2px" dy="2.5">12</tspan></text>
<text x="1093.0" y="41.6" text-anchor="middle" style="font-family:'Liberation Serif',serif;font-size:14.5px">0</text>
<text x="1026.5" y="60.1" text-anchor="middle" style="font-family:'Liberation Serif',serif;font-size:14.5px"><tspan font-style="italic">a</tspan><tspan font-size="10.2px" dy="2.5">12</tspan></text>
<path d="M1063.10 52.70L1063.10 58.90M1065.78 54.25L1060.42 57.35M1065.78 57.35L1060.42 54.25" stroke="#231f20" stroke-width="0.90" stroke-linecap="round"/>
<text x="1093.0" y="60.1" text-anchor="middle" style="font-family:'Liberation Serif',serif;font-size:14.5px">0</text>
<text x="1026.5" y="78.4" text-anchor="middle" style="font-family:'Liberation Serif',serif;font-size:14.5px">0</text>
<text x="1063.1" y="78.4" text-anchor="middle" style="font-family:'Liberation Serif',serif;font-size:14.5px">0</text>
<text x="1093.0" y="78.4" text-anchor="middle" style="font-family:'Liberation Serif',serif;font-size:14.5px">0</text>
<path d="M1016.50 27.40 C1004.50 44.11 1004.50 66.39 1016.50 83.10 C1006.50 66.39 1006.50 44.11 1016.50 27.40 Z" fill="#231f20" stroke="#231f20" stroke-width="0.45"/>
<path d="M1097.40 27.40 C1109.40 44.11 1109.40 66.39 1097.40 83.10 C1107.40 66.39 1107.40 44.11 1097.40 27.40 Z" fill="#231f20" stroke="#231f20" stroke-width="0.45"/><path d="M1149.80 34.20L1149.80 40.40M1152.48 35.75L1147.12 38.85M1152.48 38.85L1147.12 35.75" stroke="#231f20" stroke-width="0.90" stroke-linecap="round"/>
<text x="1180.0" y="41.6" text-anchor="middle" style="font-family:'Liberation Serif',serif;font-size:14.5px">0</text>
<text x="1209.7" y="41.6" text-anchor="middle" style="font-family:'Liberation Serif',serif;font-size:14.5px"><tspan font-style="italic">a</tspan><tspan font-size="10.2px" dy="2.5">13</tspan></text>
<text x="1149.8" y="60.1" text-anchor="middle" style="font-family:'Liberation Serif',serif;font-size:14.5px">0</text>
<text x="1180.0" y="60.1" text-anchor="middle" style="font-family:'Liberation Serif',serif;font-size:14.5px">0</text>
<text x="1209.7" y="60.1" text-anchor="middle" style="font-family:'Liberation Serif',serif;font-size:14.5px">0</text>
<text x="1149.8" y="78.4" text-anchor="middle" style="font-family:'Liberation Serif',serif;font-size:14.5px"><tspan font-style="italic">a</tspan><tspan font-size="10.2px" dy="2.5">13</tspan></text>
<text x="1180.0" y="78.4" text-anchor="middle" style="font-family:'Liberation Serif',serif;font-size:14.5px">0</text>
<path d="M1209.70 71.00L1209.70 77.20M1212.38 72.55L1207.02 75.65M1212.38 75.65L1207.02 72.55" stroke="#231f20" stroke-width="0.90" stroke-linecap="round"/>
<path d="M1139.00 27.40 C1127.00 44.11 1127.00 66.39 1139.00 83.10 C1129.00 66.39 1129.00 44.11 1139.00 27.40 Z" fill="#231f20" stroke="#231f20" stroke-width="0.45"/>
<path d="M1220.80 27.40 C1232.80 44.11 1232.80 66.39 1220.80 83.10 C1230.80 66.39 1230.80 44.11 1220.80 27.40 Z" fill="#231f20" stroke="#231f20" stroke-width="0.45"/><text x="1268.4" y="41.6" text-anchor="middle" style="font-family:'Liberation Serif',serif;font-size:14.5px">0</text>
<text x="1298.3" y="41.6" text-anchor="middle" style="font-family:'Liberation Serif',serif;font-size:14.5px">0</text>
<text x="1335.0" y="41.6" text-anchor="middle" style="font-family:'Liberation Serif',serif;font-size:14.5px">0</text>
<text x="1268.4" y="60.1" text-anchor="middle" style="font-family:'Liberation Serif',serif;font-size:14.5px">0</text>
<path d="M1298.30 52.70L1298.30 58.90M1300.98 54.25L1295.62 57.35M1300.98 57.35L1295.62 54.25" stroke="#231f20" stroke-width="0.90" stroke-linecap="round"/>
<text x="1335.0" y="60.1" text-anchor="middle" style="font-family:'Liberation Serif',serif;font-size:14.5px"><tspan font-style="italic">a</tspan><tspan font-size="10.2px" dy="2.5">23</tspan></text>
<text x="1268.4" y="78.4" text-anchor="middle" style="font-family:'Liberation Serif',serif;font-size:14.5px">0</text>
<text x="1298.3" y="78.4" text-anchor="middle" style="font-family:'Liberation Serif',serif;font-size:14.5px"><tspan font-style="italic">a</tspan><tspan font-size="10.2px" dy="2.5">23</tspan></text>
<path d="M1335.00 71.00L1335.00 77.20M1337.68 72.55L1332.32 75.65M1337.68 75.65L1332.32 72.55" stroke="#231f20" stroke-width="0.90" stroke-linecap="round"/>
<path d="M1265.20 27.40 C1253.20 44.11 1253.20 66.39 1265.20 83.10 C1255.20 66.39 1255.20 44.11 1265.20 27.40 Z" fill="#231f20" stroke="#231f20" stroke-width="0.45"/>
<path d="M1344.80 27.40 C1356.80 44.11 1356.80 66.39 1344.80 83.10 C1354.80 66.39 1354.80 44.11 1344.80 27.40 Z" fill="#231f20" stroke="#231f20" stroke-width="0.45"/><path d="M976.90 53.70H991.90M976.90 59.30H991.90" stroke="#231f20" stroke-width="1.80"/><path d="M1111.00 56.40H1126.40M1118.70 48.60V64.20" stroke="#231f20" stroke-width="1.90"/><path d="M1234.30 56.40H1249.70M1242.00 48.60V64.20" stroke="#231f20" stroke-width="1.90"/><path d="M976.90 149.10H991.90M976.90 155.00H991.90" stroke="#231f20" stroke-width="1.80"/><path d="M1111.10 153.80H1126.50M1118.80 146.00V161.60" stroke="#231f20" stroke-width="1.90"/><path d="M1234.80 153.80H1250.20M1242.50 146.00V161.60" stroke="#231f20" stroke-width="1.90"/><path d="M976.90 293.00H991.90M976.90 298.70H991.90" stroke="#231f20" stroke-width="1.80"/><path d="M1172.60 300.40H1188.00M1180.30 292.60V308.20" stroke="#231f20" stroke-width="1.90"/><line x1="878.9" y1="154.1" x2="933.4" y2="124.4" stroke="#000" stroke-width="3.0"/><line x1="878.9" y1="154.1" x2="933.4" y2="184.6" stroke="#000" stroke-width="3.0"/><line x1="933.4" y1="124.4" x2="933.4" y2="184.6" stroke="#000" stroke-width="3.0"/><circle cx="878.9" cy="154.1" r="8.6" fill="#000"/><circle cx="933.4" cy="124.4" r="8.6" fill="#000"/><circle cx="933.4" cy="184.6" r="8.6" fill="#000"/><line x1="1027.4" y1="154.1" x2="1081.9" y2="124.4" stroke="#000" stroke-width="3.0"/><circle cx="1027.4" cy="154.1" r="8.6" fill="#000"/><circle cx="1081.9" cy="124.4" r="8.6" fill="#000"/><circle cx="1081.9" cy="184.6" r="8.6" fill="#000"/><line x1="1155.3" y1="154.1" x2="1209.8" y2="184.6" stroke="#000" stroke-width="3.0"/><circle cx="1155.3" cy="154.1" r="8.6" fill="#000"/><circle cx="1209.8" cy="124.4" r="8.6" fill="#000"/><circle cx="1209.8" cy="184.6" r="8.6" fill="#000"/><line x1="1330.6" y1="124.4" x2="1330.6" y2="184.6" stroke="#000" stroke-width="3.0"/><circle cx="1276.1" cy="154.1" r="8.6" fill="#000"/><circle cx="1330.6" cy="124.4" r="8.6" fill="#000"/><circle cx="1330.6" cy="184.6" r="8.6" fill="#000"/><line x1="1027.9" y1="301.2" x2="1081.4" y2="270.5" stroke="#000" stroke-width="6.4"/><circle cx="1027.9" cy="301.2" r="8.9" fill="#000"/><circle cx="1081.4" cy="270.5" r="8.9" fill="#000"/><circle cx="1081.4" cy="331.3" r="8.9" fill="#000"/><line x1="1330.3" y1="270.5" x2="1330.3" y2="331.3" stroke="#000" stroke-width="6.4"/><circle cx="1276.8" cy="301.2" r="8.9" fill="#000"/><circle cx="1330.3" cy="270.5" r="8.9" fill="#000"/><circle cx="1330.3" cy="331.3" r="8.9" fill="#000"/>
<text x="1053.8" y="218.8" style="font-size:28.5px">p</text><path d="M1074 228.4V218L1071.2 220.1" fill="none" stroke="#231f20" stroke-width="1.45" stroke-linejoin="round"/>
<text x="1178.8" y="218.8" style="font-size:28.5px">p<tspan font-size="15px" dy="10">2</tspan></text>
<text x="1303.3" y="218.8" style="font-size:28.5px">p<tspan font-size="15px" dy="10">3</tspan></text>
<text transform="translate(885.6,303.7) scale(0.885,1)" style="font-size:27.8px">A</text><text x="902.8" y="313.7" style="font-size:15.5px">sparse</text>
</svg>
</body></html>
